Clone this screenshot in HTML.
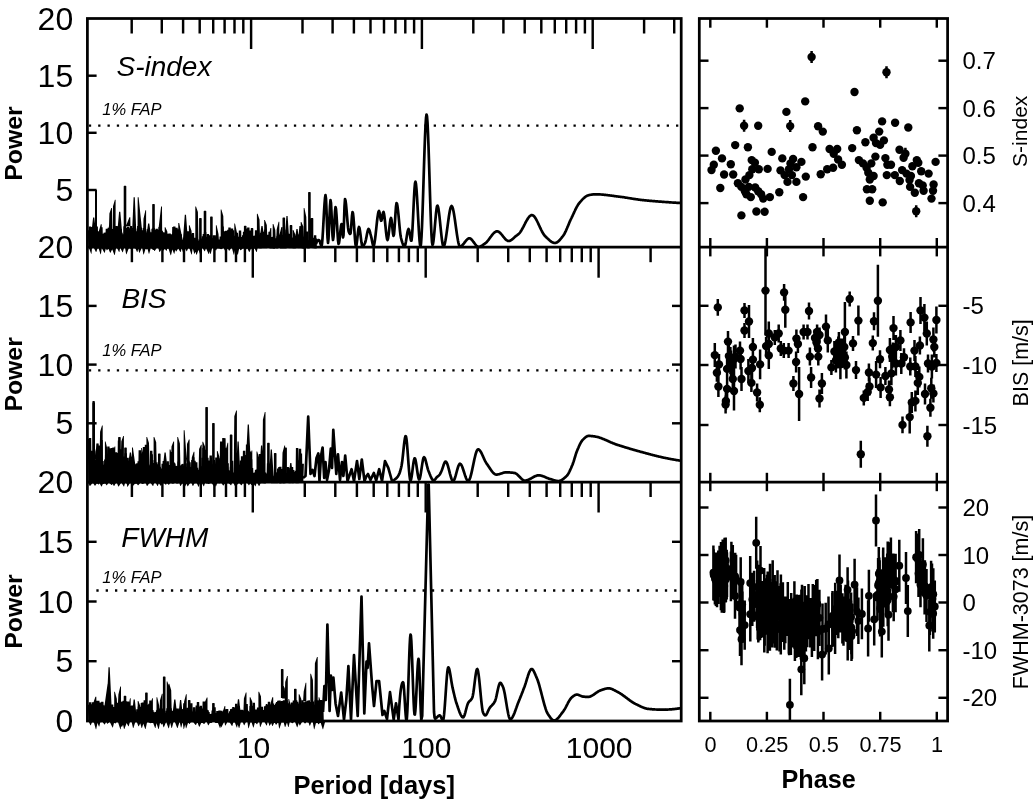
<!DOCTYPE html>
<html lang="en"><head><meta charset="utf-8"><title>Periodograms and phase plots</title>
<style>html,body{margin:0;padding:0;background:#fff}body{width:1036px;height:800px;overflow:hidden}svg{display:block}text{font-family:"Liberation Sans",Arial,Helvetica,sans-serif;fill:#000}</style>
</head><body>
<svg width="1036" height="800" viewBox="0 0 1036 800">
<rect width="1036" height="800" fill="#fff"/>
<g stroke="#000" fill="none" stroke-linecap="butt">
<polyline points="89,230.2 89.5,247.9 90,226.6 90.3,248.4 90.8,227 91.2,248.2 91.8,227 92.2,247.6 92.6,227.2 93.2,247.8 93.7,232 94.3,247.9 94.8,226.2 95.2,248 95.6,229.7 96.1,248.3 96.7,226.5 97,248.2 97.4,231.3 98.1,248.4 98.4,231.6 99.1,247.7 99.5,233.5 100.1,248.2 100.5,232.9 101,247.8 101.4,227.2 101.9,247.9 102.5,233.9 102.9,248 103.5,235 104.1,248.6 104.7,232.8 105.3,248.3 105.7,232.6 106.3,248.3 106.9,228.9 107.4,247.8 107.8,230.4 108.3,248.2 108.8,227.8 109.4,247.9 110,226.5 110.5,248.1 110.9,228.6 111.4,248.1 111.7,231.3 112.3,248.2 113,229.1 113.5,247.9 114.1,232.9 114.7,248.3 115.3,228.2 115.8,247.7 116.3,226.1 116.9,248.1 117.5,230.1 118,247.7 118.5,226.2 119.1,247.7 119.6,226.8 120.1,247.7 120.6,229 121,247.7 121.5,232.7 122.1,248.1 122.5,234.6 123.1,248.1 123.5,234.4 124.1,248 124.6,226.4 124.9,247.8 125.4,234.8 125.8,247.8 126.2,230.5 126.6,247.6 127.1,227.8 127.7,248.5 128.2,226.8 128.7,247.7 129.2,228.2 129.6,248.5 130.2,229.4 130.7,247.8 131.1,226.1 131.7,248.1 132.2,228.1 132.7,247.8 133.3,231.9 133.7,248.2 134.2,234.9 134.6,248.2 135.1,228.6 135.8,248.4 136.3,231.3 136.7,247.6 137.3,232.6 137.8,248.3 138.3,226 138.7,247.6 139.2,227.5 139.7,248.4 140.1,227.1 140.4,247.7 140.9,228.1 141.5,248 141.9,233 142.4,247.9 142.8,230.3 143.4,248.3 144,228 144.5,247.8 145.1,231.4 145.7,248.5 146.1,234.7 146.6,248.3 147.1,232.8 147.4,248.3 147.8,229.3 148.3,248 148.8,232.9 149.1,247.8 149.5,235.1 150.1,247.8 150.6,232.3 151,247.7 151.5,235.3 152.1,247.9 152.6,228.9 153,248 153.6,227.9 154,247.8 154.6,229.9 155,247.7 155.6,230.3 156.2,248 156.7,228.7 157.3,248 157.7,230.1 158.3,247.7 158.8,230.4 159.2,248.2 159.7,227 160.2,248.6 160.6,229 161.2,248.2 161.7,230.9 162.2,248.5 162.6,234.4 163.1,248.6 163.5,232.4 164.2,247.8 164.8,233.1 165.4,248.3 165.8,232.8 166.2,248.3 166.7,235.3 167.3,248.6 167.9,233.9 168.3,247.8 168.8,236.4 169.1,248.5 169.6,233.6 170.1,248.4 170.6,234.4 171,247.8 171.5,234.6 171.9,247.9 172.5,235.3 172.9,248.5 173.4,227 173.9,248.5 174.3,226.5 174.9,247.8 175.4,233.9 176,248.5 176.5,227.7 177.2,248 177.6,235.8 178.1,248.3 178.5,229.4 179.1,248.1 179.7,238.3 180.2,248.5 180.7,234.3 181.2,248.2 181.9,240 182.4,248.6 182.9,240.2 183.4,248.1 183.9,239.7 184.5,247.9 184.9,237.9 185.3,247.9 185.9,236.6 186.3,248.5 186.7,235.7 187.4,248.6 187.9,231.4 188.5,247.7 189.1,234.1 189.6,247.6 189.9,233.8 190.5,248.6 191.1,234.2 191.7,248.2 192,235.8 192.4,248.4 192.9,233 193.4,247.7 193.8,238.4 194.4,247.8 194.9,237.9 195.3,247.7 195.7,239.4 196.1,247.8 196.5,239.2 196.9,247.8 197.3,239.4 197.8,248.5 198.4,241.3 198.7,248 199.2,241 199.6,248.3 200.1,240.1 200.5,247.8 201,238.6 201.6,248.3 202,239.3 202.5,247.8 202.8,236.4 203.4,247.9 203.9,234.1 204.5,248.4 205.1,232.1 205.5,248.1 205.9,237 206.3,247.9 206.9,237.7 207.3,247.9 207.9,234.1 208.5,248.5 208.9,236.6 209.4,248.6 209.8,235.2 210.2,248.5 210.7,239 211.2,248.2 211.6,238.1 212.2,247.6 212.6,238.3 213.1,248 213.7,235.3 214.2,248.4 214.7,235.3 215.2,248 215.6,237.5 216.2,247.8 216.7,239.1 217.3,248.1 217.7,239.9 218.3,248.3 218.6,239.9 219,248.1 219.6,239.7 220.2,248.3 220.8,236.6 221.2,247.7 221.6,238.7 222,248.2 222.6,226.5 223,247.7 223.5,237 223.9,248 224.5,231.3 224.9,247.9 225.4,234.3 225.9,248.4 226.3,230.9 226.8,247.7 227.4,231.7 227.9,248.5 228.4,229.8 229,248.2 229.5,227.6 229.9,248.2 230.3,230.6 230.7,248.2 231.3,234.6 231.7,248.2 232,228.6 232.5,247.6 233.1,230.4 233.6,248.2 234,235.7 234.5,248.2 235.1,237.2 235.5,247.9 236.1,237.4 236.4,248.2 236.8,232.8 237.4,247.8 237.8,236.9 238.4,248 238.9,237.9 239.4,247.6 240,230.6 240.5,248.1 241.2,237.8 241.7,248.4 242.2,237 242.8,248 243.2,235.3 243.6,247.9 244.1,231.7 244.7,248.1 245.2,228.3 245.8,248.3 246.4,232.3 246.9,247.7 247.4,228.8 247.9,248.5 248.3,227.6 249,248.6 249.5,236.3 249.9,248.5 250.5,230.5 251,248.5 251.4,237.3 251.8,248.2 252.1,235.4 252.7,247.7 253.1,236 253.7,248.4 254.3,236.9 254.8,247.8 255.4,235.6 255.7,248 256.1,230.4 256.6,248.3 257,231.3 257.5,247.8 258,233.3 258.4,248.1 258.8,235.5 259.4,248 260,235.8 260.5,248.4 261.1,233.1 261.7,248 262.1,231.9 262.6,248.1 263.2,231.9 263.8,248.3 264.4,231.7 264.9,247.8 265.4,229.6 266,248.1 266.5,235.7 267.1,247.9 267.5,235 268,247.9 268.4,234.8 269,247.8 269.6,231.7 270.1,248.3 270.5,237.7 271.1,248.4 271.5,237.1 272.1,248.5 272.6,239.6 273,248.2 273.5,236.7 274,248.6 274.4,239.1 275,247.8 275.6,238.4 276,248.1 276.5,238.5 277.1,248.5 277.6,236.2 278,247.6 278.6,237.2 279.1,247.9 279.6,235.6 279.9,247.8 280.6,236.6 281.2,248.5 281.7,235 282.1,248.2 282.5,236.9 283,248.4 283.6,234.7 284.1,248.5 284.6,235.1 285.2,248.4 285.7,237.3 286.2,248.2 286.6,229.7 286.9,247.7 287.3,233.9 287.9,247.7 288.3,234.5 288.8,248 289.1,233.7 289.6,248.2 290.2,236.8 290.7,248.2 291.2,237.4 291.8,247.9 292.2,237.9 292.8,248.3 293.2,240.7 293.8,248.5 294.2,241.7 294.6,248.5 295,240.6 295.6,248.1 296.1,239.7 296.5,247.7 297,237.6 297.6,247.7 298,234.5 298.5,248.1 299.1,236.9 299.5,248.3 300,240.3 300.4,248.1 300.9,238.1 301.5,248.3 302,242 302.5,248.4 303,236.9 303.6,248.6 304.2,239.1 304.7,248.4 305.1,238.8 305.5,247.9 305.9,242.3 306.5,247.9 307.1,231.6 307.6,248.2 308.2,242.9 308.5,248.5 309.1,240.4 309.6,247.9 310.2,242.1 310.6,247.9 311.3,240.4 311.7,247.7 312.3,241.1 312.8,247.8 313.2,237.9 313.7,248.1 314.1,240.2 314.5,248.3 315.1,235.3 315.5,248.4 315.9,238.5" fill="none" stroke-width="2.4" stroke-linejoin="miter"/>
<polyline points="316,244 316.5,242.5 317,241.5 317.5,240.7 318,240.3 318.5,240.1 319,240 319.5,240.6 320,242.1 320.5,243.9 321,245.4 321.5,246 322,243.9 322.5,238.4 323,230.5 323.5,221.4 324,212.2 324.5,204 325,198 325.5,195.1 326,198.6 326.5,210.2 327,224.9 327.5,237.6 328,243 328.5,238.8 329,228.8 329.5,216.6 330,205.8 330.5,200.2 331,203 331.5,212.7 332,225 332.5,235.5 333,240 333.5,236.8 334,229.1 334.5,219.7 335,211.5 335.5,207.1 336,208.8 336.5,215 337,223.7 337.5,232.7 338,240.2 338.5,243.9 339,243 339.5,239.7 340,235 340.5,230.1 341,226.1 341.5,224.1 342,226.2 342.5,232.3 343,237.4 343.5,235.1 344,221.7 344.5,206.4 345,199 345.5,200.4 346,204.2 346.5,209.6 347,215.8 347.5,221.9 348,227.2 348.5,230.9 349,232.4 349.5,233.3 350,233.9 350.5,233.5 351,229.1 351.5,222.3 352,215.7 352.5,212.1 353,213.3 353.5,218 354,224.7 354.5,232.3 355,239.3 355.5,244.5 356,246.5 356.5,245.1 357,241.4 357.5,236.8 358,232.1 358.5,228.4 359,227 359.5,228.1 360,230.9 360.5,234.7 361,238.8 361.5,242.6 362,245.4 362.5,246.5 363,246.3 363.5,245.7 364,245 364.5,244 365,243 365.5,241.5 366,239.3 366.5,236.7 367,234 367.5,231.7 368,229.9 368.5,229 369,229.3 369.5,230.5 370,232.2 370.5,234.2 371,236 371.5,238.1 372,240.7 372.5,243.3 373,245.2 373.5,246 374,245.2 374.5,242.9 375,239.6 375.5,235.5 376,230.9 376.5,226.1 377,221.5 377.5,217.4 378,214.1 378.5,211.8 379,211 379.5,212.3 380,215.3 380.5,218.6 381,220.8 381.5,220.5 382,218.3 382.5,215.3 383,212.8 383.5,212 384,213.6 384.5,217 385,221.5 385.5,226.5 386,231.5 386.5,235.8 387,238.9 387.5,240 388,238.8 388.5,235.6 389,231.3 389.5,226.7 390,222.4 390.5,219.2 391,218 391.5,219.7 392,223.9 392.5,229.1 393,233.6 393.5,235.9 394,234.4 394.5,228.9 395,221.1 395.5,213.1 396,206.4 396.5,203.1 397,203.7 397.5,206.3 398,210.3 398.5,215.2 399,220.7 399.5,226.2 400,231.2 400.5,235.3 401,238 401.5,239.8 402,241.5 402.5,243.1 403,244.5 403.5,245.6 404,246.3 404.5,246.5 405,245.8 405.5,243.9 406,241.2 406.5,238.1 407,234.9 407.5,232.1 408,230 408.5,229 409,229.7 409.5,232.1 410,235.3 410.5,238.5 411,240.6 411.5,240.6 412,236.4 412.5,228.7 413,218.8 413.5,208 414,197.6 414.5,188.9 415,183.2 415.5,181.7 416,184.1 416.5,189.4 417,196.8 417.5,205.5 418,215 418.5,224.4 419,233 419.5,240 420,244.8 420.5,246.5 421,244 421.5,237 422,226.5 422.5,213.2 423,198.1 423.5,182.1 424,165.9 424.5,150.6 425,136.9 425.5,125.7 426,118 426.5,114.5 427,116.1 427.5,122.6 428,133 428.5,146.3 429,161.6 429.5,178 430,194.5 430.5,210.2 431,224 431.5,235 432,242.3 432.5,245 433,243.9 433.5,240.7 434,236.2 434.5,230.7 435,224.7 435.5,218.8 436,213.4 436.5,209.1 437,206.3 437.5,205.6 438,206.7 438.5,209.1 439,212.6 439.5,216.8 440,221.6 440.5,226.6 441,231.5 441.5,236.2 442,240.3 442.5,243.6 443,245.7 443.5,246.5 444,246.1 444.5,244.8 445,242.8 445.5,240.3 446,237.3 446.5,233.9 447,230.3 447.5,226.6 448,222.9 448.5,219.3 449,215.8 449.5,212.8 450,210.1 450.5,208 451,206.6 451.5,206 452,206.3 452.5,207.3 453,209 453.5,211.3 454,214 454.5,217.1 455,220.5 455.5,224.1 456,227.7 456.5,231.3 457,234.7 457.5,237.9 458,240.7 458.5,243.1 459,244.9 459.5,246.1 460,246.5 460.5,246.4 461,246.2 461.5,245.9 462,245.5 462.5,245 463,244.5 463.5,243.9 464,243.3 464.5,242.6 465,241.9 465.5,241.3 466,240.7 466.5,240.1 467,239.6 467.5,239.1 468,238.7 468.5,238.5 469,238.3 469.5,238.3 470,238.4 470.5,238.7 471,239 471.5,239.5 472,240 472.5,240.6 473,241.3 473.5,241.9 474,242.6 474.5,243.3 475,244 475.5,244.6 476,245.2 476.5,245.7 477,246.1 477.5,246.5 478,246.7 478.5,246.8 479,246.8 479.5,246.7 480,246.6 480.5,246.4 481,246.1 481.5,245.9 482,245.6 482.5,245.2 483,244.9 483.5,244.5 484,244.2 484.5,243.8 485,243.5 485.5,243.1 486,242.7 486.5,242.2 487,241.7 487.5,241.1 488,240.5 488.5,239.9 489,239.2 489.5,238.5 490,237.8 490.5,237.1 491,236.5 491.5,235.8 492,235.2 492.5,234.5 493,233.9 493.5,233.4 494,232.9 494.5,232.5 495,232.1 495.5,231.8 496,231.5 496.5,231.4 497,231.3 497.5,231.3 498,231.5 498.5,231.7 499,232 499.5,232.4 500,232.8 500.5,233.3 501,233.9 501.5,234.4 502,235 502.5,235.6 503,236.3 503.5,236.9 504,237.5 504.5,238.1 505,238.7 505.5,239.2 506,239.7 506.5,240.1 507,240.4 507.5,240.7 508,240.9 508.5,241 509,241 509.5,240.9 510,240.7 510.5,240.5 511,240.2 511.5,239.9 512,239.5 512.5,239.1 513,238.6 513.5,238.2 514,237.7 514.5,237.3 515,236.8 515.5,236.4 516,236 516.5,235.6 517,235.3 517.5,234.9 518,234.5 518.5,234.1 519,233.6 519.5,233.1 520,232.5 520.5,231.8 521,231 521.5,230.2 522,229.3 522.5,228.5 523,227.5 523.5,226.6 524,225.6 524.5,224.6 525,223.7 525.5,222.7 526,221.7 526.5,220.8 527,220 527.5,219.1 528,218.4 528.5,217.6 529,217 529.5,216.4 530,216 530.5,215.6 531,215.3 531.5,215.1 532,215.1 532.5,215.2 533,215.4 533.5,215.8 534,216.3 534.5,216.8 535,217.5 535.5,218.3 536,219.1 536.5,220 537,221 537.5,222 538,223 538.5,224.1 539,225.2 539.5,226.3 540,227.4 540.5,228.4 541,229.5 541.5,230.5 542,231.5 542.5,232.4 543,233.3 543.5,234.1 544,234.8 544.5,235.5 545,236 545.5,236.5 546,237 546.5,237.5 547,238 547.5,238.4 548,238.9 548.5,239.4 549,239.8 549.5,240.3 550,240.7 550.5,241.1 551,241.5 551.5,241.8 552,242.1 552.5,242.4 553,242.6 553.5,242.8 554,242.9 554.5,243 555,243 555.5,243 556,242.8 556.5,242.6 557,242.4 557.5,242 558,241.7 558.5,241.2 559,240.7 559.5,240.2 560,239.7 560.5,239.1 561,238.5 561.5,237.9 562,237.2 562.5,236.6 563,236 563.5,235.3 564,234.5 564.5,233.7 565,232.7 565.5,231.7 566,230.6 566.5,229.4 567,228.3 567.5,227.1 568,225.9 568.5,224.7 569,223.5 569.5,222.3 570,221.1 570.5,220 571,219 571.5,218 572,216.9 572.5,215.9 573,214.8 573.5,213.7 574,212.6 574.5,211.5 575,210.5 575.5,209.4 576,208.4 576.5,207.5 577,206.5 577.5,205.7 578,204.8 578.5,204.1 579,203.4 579.5,202.8 580,202.2 580.5,201.6 581,201.1 581.5,200.5 582,199.9 582.5,199.4 583,198.9 583.5,198.4 584,198 584.5,197.5 585,197.1 585.5,196.7 586,196.4 586.5,196.1 587,195.8 587.5,195.6 588,195.4 588.5,195.2 589,195.1 589.5,195 590,194.9 590.5,194.8 591,194.7 591.5,194.6 592,194.6 592.5,194.5 593,194.4 593.5,194.4 594,194.4 594.5,194.3 595,194.3 595.5,194.3 596,194.3 596.5,194.3 597,194.3 597.5,194.3 598,194.3 598.5,194.4 599,194.4 599.5,194.4 600,194.4 600.5,194.5 601,194.5 601.5,194.5 602,194.6 602.5,194.6 603,194.7 603.5,194.7 604,194.8 604.5,194.8 605,194.9 605.5,194.9 606,195 606.5,195 607,195.1 607.5,195.1 608,195.2 608.5,195.3 609,195.3 609.5,195.4 610,195.5 610.5,195.5 611,195.6 611.5,195.7 612,195.7 612.5,195.8 613,195.9 613.5,195.9 614,196 614.5,196.1 615,196.1 615.5,196.2 616,196.3 616.5,196.3 617,196.4 617.5,196.5 618,196.5 618.5,196.6 619,196.6 619.5,196.7 620,196.8 620.5,196.8 621,196.9 621.5,197 622,197 622.5,197.1 623,197.2 623.5,197.2 624,197.3 624.5,197.4 625,197.5 625.5,197.6 626,197.6 626.5,197.7 627,197.8 627.5,197.9 628,198 628.5,198 629,198.1 629.5,198.2 630,198.3 630.5,198.4 631,198.4 631.5,198.5 632,198.6 632.5,198.7 633,198.8 633.5,198.8 634,198.9 634.5,199 635,199.1 635.5,199.2 636,199.2 636.5,199.3 637,199.4 637.5,199.4 638,199.5 638.5,199.6 639,199.6 639.5,199.7 640,199.8 640.5,199.8 641,199.9 641.5,200 642,200 642.5,200.1 643,200.1 643.5,200.2 644,200.2 644.5,200.3 645,200.3 645.5,200.4 646,200.4 646.5,200.5 647,200.5 647.5,200.6 648,200.6 648.5,200.7 649,200.7 649.5,200.8 650,200.8 650.5,200.8 651,200.9 651.5,200.9 652,201 652.5,201 653,201.1 653.5,201.1 654,201.1 654.5,201.2 655,201.2 655.5,201.3 656,201.3 656.5,201.4 657,201.4 657.5,201.4 658,201.5 658.5,201.5 659,201.6 659.5,201.6 660,201.6 660.5,201.7 661,201.7 661.5,201.7 662,201.8 662.5,201.8 663,201.9 663.5,201.9 664,201.9 664.5,202 665,202 665.5,202 666,202.1 666.5,202.1 667,202.1 667.5,202.2 668,202.2 668.5,202.2 669,202.3 669.5,202.3 670,202.4 670.5,202.4 671,202.4 671.5,202.5 672,202.5 672.5,202.5 673,202.6 673.5,202.6 674,202.6 674.5,202.6 675,202.7 675.5,202.7 676,202.7 676.5,202.8 677,202.8 677.5,202.8 678,202.9 678.5,202.9 679,202.9 679.5,202.9 680,203 680.5,203" fill="none" stroke-width="2.7" stroke-linejoin="round"/>
<polyline points="89,438.8 89.5,482.7 90,438.1 90.5,482.9 91.1,456.5 91.5,483.1 91.9,450.7 92.4,483.2 92.8,461.8 93.2,483.1 93.6,453.6 94.3,482.8 94.8,460.2 95.2,483.4 95.6,459.2 96,483.3 96.6,455.3 96.9,483.3 97.5,443.6 98.1,482.4 98.5,446.4 99.1,482.8 99.5,445.5 100,483 100.4,451.9 101,482.6 101.5,439.9 102,483.3 102.5,461 103.1,483.2 103.7,464.7 104.1,482.7 104.5,466.3 104.9,483 105.3,459.6 105.6,483.3 106.2,453.8 106.9,482.5 107.2,455.1 107.8,483 108.4,446.6 109,482.7 109.4,453.6 109.9,482.5 110.4,448.3 110.9,483.4 111.3,452.9 111.8,482.7 112.2,448.1 112.9,482.7 113.5,447.6 114,482.4 114.7,456.9 115.3,483.3 115.8,452.3 116.3,482.8 116.9,452.8 117.4,482.8 117.9,458.3 118.6,482.8 119,440.5 119.7,482.5 120.2,449.2 120.9,483.1 121.2,456.7 121.8,482.6 122.2,457.4 122.9,482.6 123.5,456.6 124,483.1 124.6,456.7 125.1,482.5 125.7,453.3 126.1,482.7 126.5,460.5 127,483.4 127.6,457.9 128.2,483.3 128.7,460.9 129.3,482.7 129.7,462.3 130.2,482.7 130.7,460.7 131.3,483.1 131.9,456.8 132.5,482.5 133,462.1 133.6,482.7 134,468.1 134.6,483.1 135,464.4 135.4,483.1 135.7,465.5 136.3,482.6 136.9,463.6 137.3,483.4 137.7,463.3 138.1,483.2 138.7,461.3 139.3,483.1 139.8,450.2 140.4,482.6 141,459.1 141.5,482.9 142,453.5 142.4,482.7 142.8,452.6 143.4,483.4 144,447 144.5,482.9 144.9,447.2 145.4,482.5 146,444.8 146.5,483.3 147.1,453.2 147.6,482.5 148.1,465.6 148.6,483.1 149,467.7 149.4,483 150,466.4 150.6,482.9 151.2,450.7 151.7,483 152.2,460.1 152.8,483.2 153.4,463.1 153.9,482.7 154.5,467.5 155.1,482.6 155.6,466.7 156.1,482.8 156.4,462.4 157.1,483 157.7,465.6 158.2,483 158.8,464.3 159.3,482.7 159.7,466.8 160.2,483.2 160.7,468.5 161.3,483.1 161.8,469.5 162.3,482.4 162.7,463.9 163.3,483.3 163.8,461 164.3,483.2 164.7,462 165.1,482.5 165.6,465.6 166.1,483 166.5,467.7 167.1,482.9 167.7,461.4 168.2,482.9 168.7,466.3 169.2,482.6 169.8,465.1 170.3,483.3 170.6,465.5 171.1,482.9 171.5,452.1 172.1,483.2 172.5,454.1 173.1,483.4 173.7,462.4 174.1,482.9 174.4,463.4 174.8,482.6 175.3,465.8 176,482.8 176.6,466.1 177,483.3 177.6,466.1 178.1,482.8 178.7,461.5 179.3,483.2 179.8,465.9 180.3,483 180.8,466.9 181.2,482.7 181.7,465.1 182.2,483.1 182.6,463.9 183.1,482.8 183.4,467.4 183.8,483 184.3,465.6 184.7,483.3 185.3,467.3 185.8,482.9 186.4,468 186.8,482.7 187.4,463.2 187.8,483 188.4,460.9 189,483.1 189.5,462.4 190.1,482.5 190.6,467.1 191,482.8 191.6,468 192,482.7 192.4,460 192.9,483.1 193.3,457.2 193.8,482.5 194.5,460.7 195,483.1 195.4,466.5 195.8,483.3 196.2,462.2 196.8,483.3 197.1,467.8 197.6,482.7 198.1,469.9 198.7,483 199.4,471.3 199.9,483.1 200.6,470.2 201.2,482.6 201.6,466.3 202.1,482.8 202.6,457.8 203.1,482.8 203.5,447.7 204,483.2 204.5,465.4 204.9,482.8 205.4,449.7 205.9,482.6 206.3,463.2 206.8,482.6 207.4,457.9 208,483 208.5,460.5 209,483.2 209.6,461.3 210.1,483.1 210.7,455.5 211.4,483.3 211.8,464.3 212.4,482.5 212.9,467.5 213.3,482.5 213.8,460 214.2,483.1 214.6,468.3 215.1,483.4 215.5,464.2 215.9,482.7 216.4,457.4 216.8,483.2 217.5,466.6 217.9,483.3 218.3,459.8 218.8,483 219.5,465.9 219.9,482.5 220.3,458.2 220.7,483 221.2,441.6 221.7,482.4 222.3,449.8 222.8,482.8 223.4,438.1 223.8,483.4 224.4,438.2 225,483.3 225.6,447.7 226.1,482.9 226.6,454.2 227,483.1 227.6,463.2 228,482.5 228.4,470.2 228.8,483.2 229.2,471.1 229.6,483 230.2,472.7 230.6,482.5 231,466.8 231.4,482.5 232.1,460.9 232.6,482.8 233.1,472.9 233.5,482.7 233.9,472.6 234.4,482.4 235,473.5 235.4,482.4 235.9,470.1 236.5,483.1 237,470.6 237.4,482.6 238,467.5 238.4,482.8 239,470.7 239.4,482.6 239.9,464.8 240.4,483.1 240.9,460.5 241.5,482.8 242.1,456.3 242.5,483 242.9,457.6 243.5,482.6 244.1,450.7 244.7,483.4 245.3,456.9 245.8,482.5 246.2,455.1 246.6,482.5 247.1,444.6 247.5,482.5 248,455.3 248.6,483.3 249.1,456.2 249.5,483.1 250.1,451.4 250.6,482.9 251.1,459.2 251.5,483.3 252,468.1 252.5,482.8 253.1,473.1 253.5,482.9 253.9,473.4 254.5,483 254.9,472.6 255.4,482.5 256.1,469.7 256.4,483 256.8,470 257.3,482.5 257.8,469.1 258.3,482.9 258.8,466.9 259.3,483.1 259.9,454 260.3,483.3 260.9,470 261.5,483.3 262.2,470 262.5,483 263,468.5 263.6,483.1 264.2,472 264.7,483.4 265.2,472.7 265.6,482.6 266.2,474 266.8,482.4 267.2,474.9 267.6,482.8 268.1,463.2 268.7,482.8 269.1,468 269.7,483 270.3,473.6 270.8,482.7 271.5,472.5 272.1,483.2 272.6,475.7 273,482.7 273.4,477.2 273.9,483.2 274.3,476.7 274.8,483.1 275.4,475.3 275.9,483 276.3,473.6 276.7,483.2 277.3,472.2 277.7,482.6 278.2,468.5 278.8,482.9 279.4,467 279.9,483.2 280.3,466.7 280.7,483.4 281.1,470.2 281.8,483.2 282.1,469 282.5,483.3 283,472.1 283.4,482.7 283.9,475.6 284.4,483.3 284.8,474.8 285.3,482.8 285.8,473 286.3,482.9 286.6,474.4 287.1,482.8 287.7,467 288.1,482.7 288.6,467.7 289,482.5 289.3,469.8 289.7,483.1 290.2,475 290.6,483 291.1,473.6 291.4,482.4 292,467.1 292.6,483.3 293.2,470 293.7,482.7 294.2,475.2 294.8,483 295.2,471.9 295.6,482.8 296.1,470.8 296.7,483.2 297.1,448.1 297.6,483.2 298,466.9 298.5,482.9 299,460.3 299.4,482.9 300,448.8 300.4,482.5 300.9,453.5 301.3,482.7 301.6,465.1 302.1,482.5 302.7,463.8" fill="none" stroke-width="2.4" stroke-linejoin="miter"/>
<polyline points="303,478 305.5,476 308.2,416.7 310.5,474 312.5,470 314.5,476 316.5,458 318.3,453.4 319.5,481 321,456 322.6,447.6 324.2,478 325.5,462 327,480 329,470 330.8,448.5 332,468 333.3,429.8 335,455 336.3,474 338,454.3 340,480 342,462 343.4,476 345.2,455.7 347.5,481 351.6,469.2 354,481 357,461 359.3,479 361.8,459.5 364.5,481 366.5,476 368,474 370.5,480 373.8,473 376.2,480.5 379.2,469.2 382,481 385,461 388.3,467.8 392,481 392.5,480.9 393,480.7 393.5,480.4 394,480.1 394.5,479.7 395,479.3 395.5,478.9 396,478.5 396.5,478 397,477.5 397.5,476.9 398,476.2 398.5,475.3 399,474.4 399.5,473.2 400,471.8 400.5,470 401,468.1 401.5,466 402,463.1 402.5,459.2 403,454.5 403.5,449.7 404,445 404.5,440.9 405,437.8 405.5,436.2 406,436.5 406.5,439.3 407,444 407.5,450.1 408,456.9 408.5,463.8 409,470.2 409.5,475.5 410,479.2 410.5,480.5 411,479.6 411.5,477.3 412,474 412.5,470.1 413,466.2 413.5,462.6 414,459.9 414.5,458.3 415,458.5 415.5,460 416,462.5 416.5,465.7 417,469.2 417.5,472.7 418,475.8 418.5,478.1 419,479.4 419.5,479.2 420,477.8 420.5,475.5 421,472.4 421.5,469 422,465.6 422.5,462.4 423,459.7 423.5,457.9 424,457.2 424.5,457.6 425,458.5 425.5,460 426,461.8 426.5,463.8 427,465.9 427.5,467.8 428,469.6 428.5,471 429,472.2 429.5,473.5 430,474.7 430.5,476 431,477.1 431.5,478.2 432,479.1 432.5,479.8 433,480.3 433.5,480.5 434,480.4 434.5,480.1 435,479.5 435.5,478.9 436,478.2 436.5,477.5 437,477 437.5,476.6 438,476.2 438.5,475.9 439,475.4 439.5,474.9 440,474.1 440.5,473.1 441,472.1 441.5,471 442,469.8 442.5,468.4 443,466.9 443.5,465.3 444,463.9 444.5,462.7 445,461.9 445.5,461.5 446,461.7 446.5,462.3 447,463.3 447.5,464.6 448,466.2 448.5,468 449,469.9 449.5,471.8 450,473.8 450.5,475.6 451,477.3 451.5,478.7 452,479.9 452.5,480.6 453,481 453.5,480.8 454,480.2 454.5,479.2 455,477.8 455.5,476.2 456,474.4 456.5,472.5 457,470.7 457.5,468.9 458,467.2 458.5,465.8 459,464.7 459.5,464 460,463.7 460.5,463.9 461,464.4 461.5,465.2 462,466.3 462.5,467.5 463,469 463.5,470.5 464,472 464.5,473.6 465,475.2 465.5,476.6 466,477.9 466.5,479.1 467,480 467.5,480.6 468,481 468.5,480.9 469,480.4 469.5,479.5 470,478.2 470.5,476.7 471,474.8 471.5,472.8 472,470.6 472.5,468.3 473,465.9 473.5,463.5 474,461.1 474.5,458.8 475,456.7 475.5,454.7 476,453 476.5,451.5 477,450.4 477.5,449.6 478,449.3 478.5,449.4 479,449.6 479.5,450.1 480,450.7 480.5,451.4 481,452.2 481.5,453.2 482,454.2 482.5,455.3 483,456.4 483.5,457.5 484,458.6 484.5,459.7 485,460.8 485.5,461.7 486,462.6 486.5,463.4 487,464.1 487.5,464.8 488,465.6 488.5,466.3 489,467.1 489.5,467.8 490,468.6 490.5,469.3 491,470 491.5,470.7 492,471.4 492.5,472 493,472.6 493.5,473.1 494,473.5 494.5,473.9 495,474.2 495.5,474.4 496,474.6 496.5,474.6 497,474.6 497.5,474.5 498,474.4 498.5,474.3 499,474.2 499.5,474.1 500,473.9 500.5,473.8 501,473.6 501.5,473.4 502,473.2 502.5,473.1 503,472.9 503.5,472.8 504,472.6 504.5,472.5 505,472.4 505.5,472.4 506,472.3 506.5,472.3 507,472.3 507.5,472.3 508,472.3 508.5,472.4 509,472.4 509.5,472.4 510,472.5 510.5,472.5 511,472.6 511.5,472.6 512,472.7 512.5,472.7 513,472.8 513.5,472.9 514,472.9 514.5,473 515,473.1 515.5,473.3 516,473.6 516.5,473.9 517,474.3 517.5,474.7 518,475.2 518.5,475.7 519,476.2 519.5,476.7 520,477.3 520.5,477.8 521,478.3 521.5,478.7 522,479.2 522.5,479.6 523,479.9 523.5,480.2 524,480.4 524.5,480.6 525,480.6 525.5,480.6 526,480.5 526.5,480.4 527,480.3 527.5,480.1 528,480 528.5,479.8 529,479.5 529.5,479.3 530,479 530.5,478.7 531,478.5 531.5,478.2 532,477.9 532.5,477.6 533,477.3 533.5,477 534,476.8 534.5,476.5 535,476.3 535.5,476.1 536,475.9 536.5,475.7 537,475.5 537.5,475.4 538,475.4 538.5,475.3 539,475.3 539.5,475.3 540,475.4 540.5,475.5 541,475.6 541.5,475.7 542,475.9 542.5,476 543,476.2 543.5,476.4 544,476.6 544.5,476.8 545,477 545.5,477.2 546,477.5 546.5,477.7 547,477.9 547.5,478.1 548,478.3 548.5,478.5 549,478.7 549.5,478.9 550,479 550.5,479.1 551,479.3 551.5,479.4 552,479.6 552.5,479.8 553,479.9 553.5,480.1 554,480.2 554.5,480.4 555,480.5 555.5,480.6 556,480.7 556.5,480.8 557,480.9 557.5,481 558,481 558.5,481 559,481 559.5,480.9 560,480.8 560.5,480.6 561,480.4 561.5,480.1 562,479.8 562.5,479.5 563,479.2 563.5,478.8 564,478.4 564.5,477.9 565,477.5 565.5,477 566,476.6 566.5,476.1 567,475.6 567.5,474.9 568,474.2 568.5,473.4 569,472.5 569.5,471.5 570,470.4 570.5,469.3 571,468.2 571.5,467 572,465.8 572.5,464.7 573,463.3 573.5,461.9 574,460.3 574.5,458.6 575,457 575.5,455.3 576,453.7 576.5,452.3 577,451 577.5,449.8 578,448.6 578.5,447.5 579,446.3 579.5,445.2 580,444.2 580.5,443.2 581,442.3 581.5,441.5 582,440.7 582.5,440.1 583,439.6 583.5,439.1 584,438.6 584.5,438.1 585,437.7 585.5,437.3 586,436.9 586.5,436.6 587,436.3 587.5,436.1 588,436 588.5,435.9 589,435.9 589.5,435.9 590,435.9 590.5,436 591,436 591.5,436.1 592,436.1 592.5,436.2 593,436.2 593.5,436.3 594,436.3 594.5,436.4 595,436.5 595.5,436.6 596,436.7 596.5,436.8 597,436.9 597.5,437 598,437.1 598.5,437.3 599,437.4 599.5,437.6 600,437.7 600.5,437.9 601,438.1 601.5,438.3 602,438.5 602.5,438.7 603,438.9 603.5,439.1 604,439.3 604.5,439.5 605,439.7 605.5,439.9 606,440.1 606.5,440.4 607,440.6 607.5,440.8 608,441 608.5,441.3 609,441.5 609.5,441.7 610,441.9 610.5,442.2 611,442.4 611.5,442.6 612,442.8 612.5,443 613,443.2 613.5,443.4 614,443.6 614.5,443.8 615,444 615.5,444.2 616,444.4 616.5,444.5 617,444.7 617.5,444.9 618,445 618.5,445.2 619,445.3 619.5,445.5 620,445.7 620.5,445.8 621,446 621.5,446.1 622,446.3 622.5,446.5 623,446.6 623.5,446.8 624,446.9 624.5,447.1 625,447.2 625.5,447.4 626,447.5 626.5,447.7 627,447.8 627.5,448 628,448.1 628.5,448.3 629,448.4 629.5,448.6 630,448.7 630.5,448.9 631,449 631.5,449.2 632,449.3 632.5,449.5 633,449.6 633.5,449.7 634,449.9 634.5,450 635,450.2 635.5,450.3 636,450.5 636.5,450.6 637,450.7 637.5,450.9 638,451 638.5,451.2 639,451.3 639.5,451.4 640,451.6 640.5,451.7 641,451.9 641.5,452 642,452.1 642.5,452.3 643,452.4 643.5,452.5 644,452.7 644.5,452.8 645,452.9 645.5,453.1 646,453.2 646.5,453.4 647,453.5 647.5,453.6 648,453.8 648.5,453.9 649,454 649.5,454.2 650,454.3 650.5,454.4 651,454.6 651.5,454.7 652,454.8 652.5,455 653,455.1 653.5,455.2 654,455.3 654.5,455.5 655,455.6 655.5,455.7 656,455.8 656.5,456 657,456.1 657.5,456.2 658,456.3 658.5,456.5 659,456.6 659.5,456.7 660,456.8 660.5,456.9 661,457 661.5,457.1 662,457.2 662.5,457.4 663,457.5 663.5,457.6 664,457.7 664.5,457.8 665,457.9 665.5,458 666,458.1 666.5,458.2 667,458.3 667.5,458.4 668,458.5 668.5,458.6 669,458.7 669.5,458.8 670,458.9 670.5,459 671,459.1 671.5,459.2 672,459.3 672.5,459.4 673,459.4 673.5,459.5 674,459.6 674.5,459.7 675,459.8 675.5,459.9 676,460 676.5,460.1 677,460.1 677.5,460.2 678,460.3 678.5,460.4 679,460.5 679.5,460.5 680,460.6 680.5,460.7" fill="none" stroke-width="2.7" stroke-linejoin="round"/>
<polyline points="89,704.6 89.6,722 90.1,702.4 90.6,721.9 91,705.5 91.6,722 92,704.3 92.5,722.2 93,702.3 93.6,722.4 94.2,702.8 94.7,722.2 95.2,700.7 95.8,721.7 96.3,700.7 96.9,722.3 97.5,704.1 97.9,721.8 98.3,700.7 98.8,721.7 99.3,704.3 99.7,721.8 100.1,702.5 100.5,722.3 101.1,703.3 101.7,721.7 102.3,701.8 102.9,721.9 103.5,705.2 103.8,721.5 104.2,707.4 104.6,722 105.3,706.3 105.7,722.1 106.3,705.5 106.9,721.7 107.5,706.8 108,722.1 108.5,707.3 108.9,721.4 109.4,704.9 109.7,722 110.2,707 110.7,722 111.2,707.8 111.7,722.1 112.1,704.5 112.8,721.7 113.3,710.8 113.6,721.6 114.2,707 114.7,721.5 115.1,707.1 115.6,721.9 116,703 116.4,722.1 116.8,702.7 117.2,722.3 117.7,706.7 118.1,721.6 118.5,704.5 119,722 119.6,702 120.2,721.7 120.7,701.9 121.3,722.2 121.8,701.9 122.4,721.8 122.8,701.4 123.3,721.5 123.8,700.8 124.4,721.5 124.9,702 125.5,721.4 125.8,701.3 126.3,721.6 126.9,701.6 127.4,721.6 127.9,701.6 128.3,721.7 128.8,704.7 129.4,721.7 129.9,707.4 130.5,721.9 131,705.8 131.6,721.7 132.1,705.6 132.7,721.5 133.3,711.5 133.9,721.5 134.4,711.3 135,721.8 135.6,712.1 136,722.1 136.4,712.6 136.8,721.6 137.4,709.2 137.7,721.5 138.1,710.7 138.5,722.3 138.9,706.5 139.3,722.4 139.8,707.7 140.2,722.1 140.8,707 141.4,722.1 141.9,703.1 142.4,721.9 142.7,702.6 143.2,722.3 143.7,705 144.3,722.2 144.8,700.4 145.3,721.9 145.8,702.3 146.2,722.4 146.7,705.1 147.1,722 147.5,704.7 147.9,722.2 148.5,705.6 148.9,721.7 149.4,703.7 150,721.9 150.4,700.6 150.8,721.6 151.4,710.4 151.8,721.8 152.3,710.1 152.8,721.6 153.3,711.7 153.8,721.5 154.2,714 154.6,722.1 155.2,712.6 155.6,721.7 156.1,712.1 156.7,722.2 157.1,710.4 157.5,722.3 158.1,709.2 158.7,721.8 159.1,711 159.7,721.6 160.3,708.5 161,721.7 161.3,710.9 161.7,721.7 162.3,712.3 162.7,721.9 163.3,708.5 163.9,722 164.4,713.3 165,722.4 165.5,712.9 166.1,721.4 166.5,710.7 167.1,721.9 167.5,708.2 167.9,721.9 168.5,713.2 168.9,722.1 169.5,705.9 169.9,721.9 170.5,708.4 171.1,721.8 171.7,710.8 172.2,722.2 172.6,711.7 173,721.8 173.4,710.7 174,721.6 174.5,709.7 175,721.6 175.6,712.3 176.2,721.7 176.7,708.5 177.2,721.8 177.7,708.5 178.2,721.7 178.8,712.3 179.3,721.9 179.7,711.1 180.1,722.1 180.6,708.7 181,721.9 181.5,711.3 181.8,721.9 182.3,710.2 182.8,722.1 183.3,709.1 183.8,721.9 184.4,703.4 184.8,722.4 185.3,709.5 185.9,722.4 186.4,710.3 186.9,722 187.4,707.8 188,722.2 188.4,709 188.7,721.5 189.4,710.1 189.8,721.4 190.2,710.9 190.7,721.5 191.3,703.3 191.7,722.2 192.2,711.7 192.6,721.9 193.2,711.5 193.8,721.8 194.1,707.2 194.5,721.9 195,712.2 195.5,721.5 195.9,711.9 196.4,722.3 196.8,705.6 197.4,721.9 198,702 198.4,722.3 198.8,709.5 199.2,721.5 199.8,707 200.2,721.8 200.8,705.9 201.4,722.4 201.8,709.8 202.2,721.8 202.8,708.5 203.2,721.8 203.8,701.5 204.3,722 204.8,706.3 205.2,721.9 205.6,712.1 206,721.5 206.6,709.7 207.2,721.6 207.6,710.3 208.2,721.5 208.5,712.2 209.1,721.5 209.7,715.4 210.3,721.9 210.8,714 211.2,721.7 211.8,713.9 212.3,721.5 212.7,710.6 213.2,722 213.7,708.3 214,721.4 214.5,707.2 214.9,721.7 215.6,713 216.1,721.4 216.5,713 216.9,722.1 217.4,711.1 217.9,721.5 218.4,711.8 218.9,721.8 219.5,710.5 220,722.2 220.7,714.3 221,721.9 221.4,710.9 221.9,722.2 222.4,713.6 222.9,722.2 223.3,711.9 223.7,722.2 224.3,710.6 224.9,722.3 225.5,709.4 225.9,722.3 226.3,711.8 226.7,721.8 227.1,709 227.7,721.4 228.3,713.3 228.9,722.2 229.2,713.5 229.7,722.4 230.2,711.3 230.7,721.5 231.3,709.1 232,721.9 232.4,708.8 232.9,722.4 233.4,707.1 233.7,722.4 234.3,708.1 234.7,722 235.2,709.4 235.7,722.3 236.2,703.8 236.6,722 237,708.6 237.4,721.5 237.9,711.7 238.3,721.6 238.8,706.3 239.4,722.3 239.8,710.1 240.3,721.5 240.8,710.9 241.3,722.1 241.7,709.8 242.4,721.8 242.8,710.2 243.3,722.2 243.7,710.3 244.3,722.1 244.8,712.3 245.3,722.3 245.7,710.6 246.1,722 246.6,704 247.1,721.6 247.7,710.8 248.1,722 248.5,713 249,722.2 249.5,712.1 250.1,721.6 250.7,706 251.3,722.2 251.7,705.7 252.2,721.5 252.9,711.4 253.4,722.3 253.8,702.8 254.3,722 254.9,709.8 255.4,722.4 256,709.5 256.6,721.7 257.1,710.9 257.7,722.1 258.1,707.6 258.6,722.3 259,710.1 259.4,721.5 259.8,710 260.4,722.2 260.9,712.7 261.3,721.6 261.8,706.8 262.4,721.4 262.8,710 263.5,721.9 264,712.9 264.6,721.5 265.1,706.3 265.4,721.7 265.9,707 266.3,721.8 266.8,708.5 267.4,721.7 267.8,704.5 268.5,722.2 269,701.9 269.5,722.1 270,704.9 270.4,722.3 271,705.2 271.5,721.4 271.9,708.4 272.3,721.5 272.9,703.5 273.5,721.7 273.9,705.1 274.5,722.2 274.9,706.7 275.5,721.7 276.1,703.5 276.7,721.6 277.1,702 277.7,722.3 278.3,700.9 278.8,721.8 279.5,700.6 279.9,722.1 280.4,701.4 280.9,722.1 281.3,704.4 281.7,721.5 282.2,701 282.6,722.4 283.2,702.2 283.6,721.5 284,700.3 284.4,721.5 284.9,702.6 285.2,722.3 285.6,701.1 286.1,722.2 286.6,700.2 287.2,722.2 287.8,703.2 288.4,722.3 288.9,708.9 289.4,722.3 289.8,706.6 290.5,722.1 290.9,704.5 291.5,721.9 291.9,702.5 292.5,721.6 292.8,703 293.3,721.8 293.9,700.5 294.3,721.5 294.9,701.8 295.6,721.5 296.1,700.2 296.7,722.2 297.3,701.7 297.7,722.4 298.3,703.5 298.8,721.8 299.3,703.6 299.9,721.9 300.4,703.7 300.8,721.9 301.2,704.2 301.7,721.4 302.4,700.2 302.9,721.6 303.5,702.2 303.9,721.5 304.5,703.7 305.1,722.1 305.7,701.3 306.4,721.9 307,704.2 307.4,721.8 308,700.8 308.4,722.4 308.8,700.4 309.3,722 309.9,702.5 310.4,721.9 311,702 311.5,721.5 312,703.5 312.4,722.1 312.9,701.6 313.4,721.9 313.8,707.5 314.4,722.2 314.8,704.7 315.3,721.8 315.7,700.3 316.2,721.6 316.8,702.1 317.2,722.1 317.7,700.4 318.2,721.4 318.7,701.4 319.3,722.3 319.9,702.4 320.3,721.7 320.9,700 321.5,721.8 322.1,700.2 322.6,722" fill="none" stroke-width="2.4" stroke-linejoin="miter"/>
<polyline points="323,712 324.4,686 325.8,700 327.4,624.6 329.6,711 330.9,675.6 332.2,690 333.4,677.5 335.6,703.7 338,716 341.2,692.5 344,719.5 346.3,700 348.4,666.2 351,719.5 354,655 357.7,716 361.5,596.5 364.3,713.5 366.5,661.5 367.6,668 369,643.4 372.2,686.8 374,706 376.5,681.2 379.1,681.2 382.5,715 384.3,711 387,719 390,692.1 393.7,719.5 396,703.3 398.5,719.5 398.5,719.5 398.9,712.3 399.3,706 399.7,700.6 400.1,696 400.5,692.2 400.9,689.1 401.3,686.6 401.7,684.8 402.1,683.4 402.5,682.6 402.9,682.2 403.3,682.6 403.7,685.4 404.1,690.2 404.5,696.3 404.9,703 405.3,709.6 405.7,715.1 406.1,719 406.5,720.5 406.9,718.2 407.3,711.9 407.7,702.7 408.1,691.4 408.5,679 408.9,666.5 409.3,654.9 409.7,645 410.1,637.9 410.5,634.6 410.9,635.6 411.3,640.6 411.7,648.7 412.1,658.9 412.5,670.3 412.9,682 413.3,693.2 413.7,703 414.1,710.3 414.5,714.4 414.9,714.6 415.3,711.4 415.7,705.8 416.1,698.4 416.5,690.1 416.9,681.5 417.3,673.3 417.7,666.3 418.1,661.2 418.5,658.8 418.9,660.6 419.3,667.8 419.7,678.7 420.1,691.3 420.5,703.6 420.9,713.7 421.3,719.8 422.2,716 428.2,484.5 428.7,484.5 434,712 434.6,717.5 435.3,718.7 435.7,718.5 436.1,718.2 436.5,717.8 436.9,717.4 437.3,717 437.7,716.6 438.1,716.2 438.5,715.9 438.9,715.6 439.3,715.4 439.7,715.4 440.1,715.7 440.5,716.2 440.9,717 441.3,717.8 441.7,718.7 442.1,719.5 442.5,720 442.9,720.3 443.3,719.8 443.7,717.8 444.1,714.4 444.5,710 444.9,704.7 445.3,699 445.7,693.1 446.1,687.1 446.5,681.5 446.9,676.4 447.3,672.2 447.7,669.2 448.1,667.5 448.5,667.4 448.9,668.1 449.3,669.3 449.7,671.1 450.1,673.2 450.5,675.5 450.9,678 451.3,680.6 451.7,683 452.1,685.3 452.5,687.4 452.9,689.1 453.3,690.9 453.7,692.6 454.1,694.3 454.5,696 454.9,697.7 455.3,699.2 455.7,700.7 456.1,702 456.5,703.2 456.9,704.4 457.3,705.6 457.7,706.8 458.1,708 458.5,709.1 458.9,710.3 459.3,711.4 459.7,712.4 460.1,713.4 460.5,714.3 460.9,715.1 461.3,715.8 461.7,716.4 462.1,716.9 462.5,717.2 462.9,717.4 463.3,717.3 463.7,717 464.1,716.2 464.5,715.2 464.9,714 465.3,712.6 465.7,711 466.1,709.5 466.5,708 466.9,706.5 467.3,705.1 467.7,704 468.1,703.1 468.5,702.4 468.9,701.9 469.3,701.4 469.7,701 470.1,700.6 470.5,700.3 470.9,699.8 471.3,699.4 471.7,698.8 472.1,698.1 472.5,697.1 472.9,695.3 473.3,693 473.7,690.2 474.1,687.1 474.5,683.8 474.9,680.6 475.3,677.4 475.7,674.6 476.1,672.2 476.5,670.4 476.9,669.3 477.3,669 477.7,669.8 478.1,671.4 478.5,673.9 478.9,676.9 479.3,680.5 479.7,684.4 480.1,688.5 480.5,692.7 480.9,696.8 481.3,700.8 481.7,704.4 482.1,707.6 482.5,710.2 482.9,712.1 483.3,713.1 483.7,713.8 484.1,714.5 484.5,715 484.9,715.3 485.3,715.4 485.7,715.2 486.1,714.8 486.5,714.3 486.9,713.6 487.3,712.8 487.7,711.9 488.1,711 488.5,710.1 488.9,709.3 489.3,708.5 489.7,707.9 490.1,707.4 490.5,706.9 490.9,706.4 491.3,706 491.7,705.6 492.1,705.1 492.5,704.7 492.9,704.3 493.3,703.8 493.7,703.3 494.1,702.7 494.5,702.1 494.9,701.4 495.3,700.4 495.7,699.1 496.1,697.6 496.5,695.9 496.9,694 497.3,692.1 497.7,690.3 498.1,688.5 498.5,686.8 498.9,685.4 499.3,684.2 499.7,683.3 500.1,682.9 500.5,682.8 500.9,683.1 501.3,683.6 501.7,684.3 502.1,685.1 502.5,685.9 502.9,686.8 503.3,687.7 503.7,689.1 504.1,690.7 504.5,692.5 504.9,694.6 505.3,696.9 505.7,699.3 506.1,701.7 506.5,704.1 506.9,706.6 507.3,708.9 507.7,711.1 508.1,713.2 508.5,715 508.9,716.6 509.3,717.8 509.7,718.7 510.1,719.1 510.5,719.2 510.9,719 511.3,718.8 511.7,718.4 512.1,717.8 512.5,717.2 512.9,716.5 513.3,715.7 513.7,714.8 514.1,713.9 514.5,712.9 514.9,711.8 515.3,710.7 515.7,709.6 516.1,708.5 516.5,707.4 516.9,706.2 517.3,705.1 517.7,704 518.1,702.9 518.5,701.9 518.9,700.9 519.3,699.9 519.7,699 520.1,698 520.5,697 520.9,696 521.3,695 521.7,693.9 522.1,692.9 522.5,691.9 522.9,690.9 523.3,689.8 523.7,688.8 524.1,687.8 524.5,686.8 524.9,685.6 525.3,684.4 525.7,683.2 526.1,681.9 526.5,680.6 526.9,679.2 527.3,677.9 527.7,676.7 528.1,675.4 528.5,674.2 528.9,673.1 529.3,672.1 529.7,671.3 530.1,670.5 530.5,669.9 530.9,669.4 531.3,669.1 531.7,669 532.1,669.1 532.5,669.4 532.9,669.8 533.3,670.4 533.7,671 534.1,671.8 534.5,672.7 534.9,673.6 535.3,674.5 535.7,675.5 536.1,676.4 536.5,677.4 536.9,678.3 537.3,679.2 537.7,680.3 538.1,681.5 538.5,682.7 538.9,684 539.3,685.4 539.7,686.8 540.1,688.3 540.5,689.8 540.9,691.3 541.3,692.9 541.7,694.5 542.1,696 542.5,697.6 542.9,699.2 543.3,700.7 543.7,702.2 544.1,703.7 544.5,705.1 544.9,706.4 545.3,707.7 545.7,709 546.1,710.1 546.5,711.2 546.9,712.1 547.3,713 547.7,713.7 548.1,714.3 548.5,714.9 548.9,715.5 549.3,716.1 549.7,716.7 550.1,717.2 550.5,717.8 550.9,718.3 551.3,718.7 551.7,719.1 552.1,719.5 552.5,719.8 552.9,720.1 553.3,720.3 553.7,720.4 554.1,720.5 554.5,720.5 554.9,720.4 555.3,720.3 555.7,720.1 556.1,719.8 556.5,719.6 556.9,719.2 557.3,718.9 557.7,718.5 558.1,718 558.5,717.6 558.9,717.1 559.3,716.6 559.7,716.1 560.1,715.6 560.5,715 560.9,714.5 561.3,713.9 561.7,713.4 562.1,712.9 562.5,712.3 562.9,711.8 563.3,711.3 563.7,710.7 564.1,710.1 564.5,709.5 564.9,708.8 565.3,708.1 565.7,707.3 566.1,706.6 566.5,705.8 566.9,705 567.3,704.3 567.7,703.5 568.1,702.7 568.5,702 568.9,701.3 569.3,700.6 569.7,700 570.1,699.3 570.5,698.8 570.9,698.3 571.3,697.9 571.7,697.5 572.1,697.2 572.5,696.8 572.9,696.5 573.3,696.2 573.7,695.9 574.1,695.6 574.5,695.4 574.9,695.1 575.3,695 575.7,694.8 576.1,694.7 576.5,694.6 576.9,694.6 577.3,694.6 577.7,694.7 578.1,694.8 578.5,694.9 578.9,695.1 579.3,695.2 579.7,695.4 580.1,695.6 580.5,695.8 580.9,695.9 581.3,696.1 581.7,696.3 582.1,696.4 582.5,696.5 582.9,696.6 583.3,696.6 583.7,696.7 584.1,696.7 584.5,696.7 584.9,696.8 585.3,696.8 585.7,696.8 586.1,696.8 586.5,696.9 586.9,696.9 587.3,696.9 587.7,696.9 588.1,696.9 588.5,696.9 588.9,696.8 589.3,696.8 589.7,696.7 590.1,696.5 590.5,696.4 590.9,696.2 591.3,696 591.7,695.8 592.1,695.6 592.5,695.4 592.9,695.1 593.3,694.9 593.7,694.6 594.1,694.3 594.5,694 594.9,693.8 595.3,693.5 595.7,693.2 596.1,692.9 596.5,692.6 596.9,692.4 597.3,692.1 597.7,691.8 598.1,691.6 598.5,691.3 598.9,691.1 599.3,690.9 599.7,690.7 600.1,690.5 600.5,690.4 600.9,690.2 601.3,690.1 601.7,690 602.1,689.8 602.5,689.7 602.9,689.5 603.3,689.4 603.7,689.3 604.1,689.2 604.5,689 604.9,688.9 605.3,688.8 605.7,688.7 606.1,688.6 606.5,688.5 606.9,688.5 607.3,688.4 607.7,688.3 608.1,688.3 608.5,688.3 608.9,688.3 609.3,688.3 609.7,688.4 610.1,688.5 610.5,688.6 610.9,688.7 611.3,688.8 611.7,688.9 612.1,689.1 612.5,689.3 612.9,689.5 613.3,689.7 613.7,689.9 614.1,690.1 614.5,690.3 614.9,690.5 615.3,690.7 615.7,690.9 616.1,691.1 616.5,691.4 616.9,691.6 617.3,691.7 617.7,692 618.1,692.2 618.5,692.4 618.9,692.6 619.3,692.9 619.7,693.1 620.1,693.3 620.5,693.6 620.9,693.9 621.3,694.1 621.7,694.4 622.1,694.7 622.5,695 622.9,695.3 623.3,695.5 623.7,695.8 624.1,696.1 624.5,696.4 624.9,696.7 625.3,697 625.7,697.3 626.1,697.6 626.5,697.9 626.9,698.2 627.3,698.5 627.7,698.8 628.1,699.1 628.5,699.4 628.9,699.7 629.3,700 629.7,700.3 630.1,700.6 630.5,700.9 630.9,701.2 631.3,701.4 631.7,701.7 632.1,702 632.5,702.2 632.9,702.5 633.3,702.7 633.7,703 634.1,703.2 634.5,703.4 634.9,703.6 635.3,703.9 635.7,704.1 636.1,704.2 636.5,704.4 636.9,704.6 637.3,704.8 637.7,705 638.1,705.2 638.5,705.4 638.9,705.6 639.3,705.8 639.7,706 640.1,706.2 640.5,706.4 640.9,706.6 641.3,706.8 641.7,706.9 642.1,707.1 642.5,707.3 642.9,707.4 643.3,707.6 643.7,707.8 644.1,707.9 644.5,708 644.9,708.2 645.3,708.3 645.7,708.4 646.1,708.5 646.5,708.6 646.9,708.7 647.3,708.8 647.7,708.8 648.1,708.9 648.5,708.9 648.9,709 649.3,709 649.7,709 650.1,709.1 650.5,709.1 650.9,709.1 651.3,709.2 651.7,709.2 652.1,709.3 652.5,709.3 652.9,709.3 653.3,709.3 653.7,709.4 654.1,709.4 654.5,709.4 654.9,709.5 655.3,709.5 655.7,709.5 656.1,709.5 656.5,709.5 656.9,709.6 657.3,709.6 657.7,709.6 658.1,709.6 658.5,709.6 658.9,709.6 659.3,709.7 659.7,709.7 660.1,709.7 660.5,709.7 660.9,709.7 661.3,709.7 661.7,709.7 662.1,709.7 662.5,709.7 662.9,709.7 663.3,709.7 663.7,709.7 664.1,709.7 664.5,709.7 664.9,709.7 665.3,709.7 665.7,709.6 666.1,709.6 666.5,709.6 666.9,709.6 667.3,709.6 667.7,709.6 668.1,709.5 668.5,709.5 668.9,709.5 669.3,709.5 669.7,709.4 670.1,709.4 670.5,709.4 670.9,709.4 671.3,709.3 671.7,709.3 672.1,709.3 672.5,709.2 672.9,709.2 673.3,709.1 673.7,709.1 674.1,709.1 674.5,709 674.9,709 675.3,708.9 675.7,708.9 676.1,708.8 676.5,708.8 676.9,708.7 677.3,708.7 677.7,708.6 678.1,708.6 678.5,708.5 678.9,708.4 679.3,708.4 679.7,708.3 680.1,708.3 680.5,708.2" fill="none" stroke-width="2.7" stroke-linejoin="round"/>
</g>
<path d="M123.7 239.1L123.7 186.2L124.2 185.7L125.8 185.7L126.3 186.2L126.3 239.1ZM112.4 235.3L113 206.2L114.9 199.8L115.6 199.8L115.6 235.3ZM108.8 233.1L109.4 213.6L111.3 207.9L112 207.9L112 233.1ZM117.2 232.9L119.1 211.8L120.3 211.8L122.2 232.9ZM91 236.1L93.1 217.6L94.3 217.6L96.4 236.1ZM97.4 236.3L100.8 224.3L101.7 224.3L101.9 236.3ZM125.9 226.3L129.4 217.2L130.3 217.2L130.5 226.3ZM131.9 236.6L133.6 197.3L134.8 197.3L136.5 236.6ZM142.4 233.4L138.6 197.3L137.7 197.3L137.5 233.4ZM142.9 238L143.5 218.8L145.4 210.2L146.1 210.2L146.1 238ZM145.9 239L148.1 223.4L149.3 223.4L151.5 239ZM152.2 236.3L152.2 204.5L152.7 204L154.3 204L154.8 204.5L154.8 236.3ZM157.6 236.4L161.1 206.4L162 206.4L162.2 236.4ZM164.7 239.3L164.7 227.2L165.4 227.2L167.3 231.4L167.9 239.3ZM183.1 241.8L179.2 223L178.3 223L178.1 241.8ZM182.8 241.6L184.8 214.7L186 214.7L188 241.6ZM188.9 238.2L188.9 225.3L189.6 225.3L191.5 230.7L192.1 238.2ZM195.3 242.8L195.3 206.4L196 206.4L197.9 211.9L198.5 242.8ZM199.1 243.5L199.1 218.5L199.6 218L201.2 218L201.7 218.5L201.7 243.5ZM203.7 241.5L203.7 211.3L204.2 210.8L205.8 210.8L206.3 211.3L206.3 241.5ZM210.1 241.7L210.1 217.1L210.6 216.6L212.2 216.6L212.7 217.1L212.7 241.7ZM220.7 240.9L220.7 209.5L221.4 209.5L223.3 216L223.9 240.9ZM215.9 243.2L215.9 225.3L216.6 225.3L218.5 234L219.1 243.2ZM234.3 240.7L234.3 223.4L235 223.4L236.9 232.3L237.5 240.7ZM243.9 238.3L243.9 226.2L244.4 225.7L246 225.7L246.5 226.2L246.5 238.3ZM256.9 239.7L256.9 213.7L257.6 213.7L259.5 219.6L260.1 239.7ZM264.2 238.8L264.2 219.9L264.9 219.9L266.8 225.1L267.4 238.8ZM276.1 240.9L276.7 229.2L278.6 221.8L279.3 221.8L279.3 240.9ZM282.5 240.7L282.5 218.1L283 217.6L284.6 217.6L285.1 218.1L285.1 240.7ZM284.8 239.1L286.4 216L287.6 216L289.2 239.1ZM303.7 245.1L303.7 208L304.4 208L306.3 216.9L306.9 245.1ZM308.1 246.1L308.1 192.5L308.6 192L310.2 192L310.7 192.5L310.7 246.1ZM310.7 244.6L310.7 218.5L311.2 218L312.8 218L313.3 218.5L313.3 244.6ZM297.8 244.2L299.4 226L300.6 226L302.2 244.2ZM292.7 245L292.7 230L293.4 230L295.3 234.6L295.9 245ZM259.6 238.2L261.4 226L262.6 226L264.4 238.2ZM267.4 242.1L270.4 228L271.3 228L271.5 242.1ZM272.7 243.4L272.7 224L273.4 224L275.3 230L275.9 243.4ZM278 240.5L281.4 227L282.3 227L282.5 240.5ZM289.7 241L289.7 225.5L290.2 225L291.8 225L292.3 225.5L292.3 241ZM294.3 244.4L296.4 229L297.6 229L299.7 244.4ZM300.7 244.5L300.7 222L301.4 222L303.3 226.6L303.9 244.5ZM250.7 240.2L250.7 228.5L251.2 228L252.8 228L253.3 228.5L253.3 240.2ZM245 237.9L248.4 231L249.3 231L249.5 237.9ZM89 248L91.1 253.7L91.5 253.7L92 248ZM93.9 248L95.9 251.9L96.3 251.9L97.7 248ZM98.5 248L100.5 254.2L100.9 254.2L101.8 248ZM101.7 248L104.4 252.8L104.8 252.8L105.9 248ZM105.7 248L106.7 250.3L107.1 250.3L108.9 248ZM108.1 248L110.1 252.8L110.5 252.8L112.8 248ZM111.7 248L114.4 255L114.8 255L116.1 248ZM117 248L119 252.1L119.4 252.1L120.1 248ZM120.3 248L122.5 252.3L122.9 252.3L124 248ZM125.1 248L126.1 254.3L126.5 254.3L128.9 248ZM130 248L132 250.8L132.4 250.8L133.3 248ZM135.2 248L137 252L137.4 252L138.5 248ZM138.1 248L139.2 252.8L139.6 252.8L141.7 248ZM142.2 248L143.4 254.5L143.8 254.5L145.8 248ZM144.7 248L146.6 249.4L147 249.4L148.2 248ZM147.3 248L148.8 253.8L149.2 253.8L150.8 248ZM150.7 248L153.1 249.9L153.5 249.9L154.7 248ZM153.1 248L154.3 251L154.7 251L156.7 248ZM158.3 248L159.4 252.1L159.8 252.1L162.4 248ZM161.1 248L162.5 251L162.9 251L165.8 248ZM164.1 248L166.3 250.8L166.7 250.8L167.4 248ZM168.3 248L170.6 255.2L171 255.2L172.7 248ZM171.8 248L174 253.8L174.4 253.8L175.6 248ZM174.7 248L175.9 251.5L176.3 251.5L178.5 248ZM177.9 248L180.3 252L180.7 252L181.8 248ZM181.6 248L183.9 255.2L184.3 255.2L185.6 248ZM185.2 248L186.5 251.2L186.9 251.2L188.3 248ZM189.3 248L191.4 254.4L191.8 254.4L192.7 248ZM192.6 248L194.3 253.7L194.7 253.7L197.1 248ZM194.9 248L196.3 254.7L196.7 254.7L199.2 248ZM197.8 248L199.9 253.7L200.3 253.7L202 248ZM202.5 248L204.5 251.3L204.9 251.3L206.1 248ZM205.9 248L208.6 254.1L209 254.1L210.5 248ZM209 248L210.3 253.9L210.7 253.9L212.2 248ZM213.9 248L215.7 250.6L216.1 250.6L217.2 248ZM218.8 248L220.9 249.2L221.3 249.2L223.1 248ZM223.6 248L225.4 251.6L225.8 251.6L228.1 248ZM227.5 248L229 250.8L229.4 250.8L231.3 248ZM231.9 248L233.7 254.8L234.1 254.8L235.5 248ZM235.1 248L237.5 254.7L237.9 254.7L239.3 248ZM238.9 248L240.5 250.2L240.9 250.2L243.2 248ZM243.1 248L245.1 250.6L245.5 250.6L247.2 248ZM247.1 248L249.1 251.9L249.5 251.9L251.3 248ZM251.1 248L253.1 251.4L253.5 251.4L254.2 248ZM254.4 248L256.4 252L256.8 252L257.6 248Z" fill="#000" stroke="none"/>
<path d="M92.4 468.8L92.4 402.7L92.9 402.2L94.5 402.2L95 402.7L95 468.8ZM99.5 460.7L100.1 431.8L102 425.4L102.7 425.4L102.7 460.7ZM94.7 459.1L95.3 451.6L97.2 443.7L97.9 443.7L97.9 459.1ZM104.9 462.8L104.9 441.4L105.6 441.4L107.5 449.5L108.1 462.8ZM112.1 460.9L112.7 454.4L114.6 446.6L115.3 446.6L115.3 460.9ZM118.1 460.3L118.1 437.5L118.6 437L120.2 437L120.7 437.5L120.7 460.3ZM120.7 460.5L121.3 441.5L123.2 436L123.9 436L123.9 460.5ZM124.2 461.9L124.2 448.1L124.7 447.6L126.3 447.6L126.8 448.1L126.8 461.9ZM135.9 469.1L132.9 447.6L132 447.6L131.8 469.1ZM127.8 466.2L129.8 452.4L131 452.4L133 466.2ZM141.2 459.8L141.2 448L141.9 448L143.8 456.2L144.4 459.8ZM146.4 466.9L146.4 437L147.1 437L149 443.1L149.6 466.9ZM148.8 469.8L152 454.3L152.9 454.3L153.1 469.8ZM153.6 469.6L153.6 437L154.3 437L156.2 442.3L156.8 469.6ZM158 471.6L158 453.9L158.5 453.4L160.1 453.4L160.6 453.9L160.6 471.6ZM162.4 470.7L164.5 452.4L165.7 452.4L167.8 470.7ZM170.9 468L171.5 446.6L173.4 441.4L174.1 441.4L174.1 468ZM174.5 469.1L170.5 449.5L169.6 449.5L169.4 469.1ZM177.3 470.2L177.3 437L178 437L179.9 443.6L180.5 470.2ZM187.6 471.3L184.6 430.2L183.7 430.2L183.5 471.3ZM186.4 472.2L187 444.1L188.9 439.5L189.6 439.5L189.6 472.2ZM191.2 469.8L191.8 457.6L193.7 451.8L194.4 451.8L194.4 469.8ZM198.5 473.8L199.1 449L201 444.7L201.7 444.7L201.7 473.8ZM202.4 470.3L202.4 441.8L203.1 441.8L205 446.6L205.6 470.3ZM205.3 466.1L205.3 407.5L205.8 407L207.4 407L207.9 407.5L207.9 466.1ZM212.1 472.6L212.1 423.4L212.6 422.9L214.2 422.9L214.7 423.4L214.7 472.6ZM216.9 471.6L216.9 451L217.6 451L219.5 456.9L220.1 471.6ZM225 464.8L225.6 451.3L227.5 442.7L228.2 442.7L228.2 464.8ZM229.8 476.1L229.8 434.9L230.3 434.4L231.9 434.4L232.4 434.9L232.4 476.1ZM233.7 476.1L234.3 416.3L236.2 410.5L236.9 410.5L236.9 476.1ZM235.9 474.3L237.5 441.4L238.7 441.4L240.3 474.3ZM245.8 462.5L247.7 424.4L248.9 424.4L250.8 462.5ZM249.1 468.9L249.7 458.4L251.6 450.5L252.3 450.5L252.3 468.9ZM256.5 474.2L256.5 451.4L257.2 451.4L259.1 457.8L259.7 474.2ZM259.2 474.7L261 445.6L262.2 445.6L264 474.7ZM262.3 476.1L262.9 419.7L264.8 411.9L265.5 411.9L265.5 476.1ZM267.1 478L267.1 443.2L267.6 442.7L269.2 442.7L269.7 443.2L269.7 478ZM268.7 479.6L270.7 449.5L271.9 449.5L273.9 479.6ZM273.9 479.4L273.9 453.5L274.4 453L276 453L276.5 453.5L276.5 479.4ZM281.9 479.7L282.5 452.7L284.4 445.6L285.1 445.6L285.1 479.7ZM284.3 479.2L284.3 448.1L284.8 447.6L286.4 447.6L286.9 448.1L286.9 479.2ZM288.3 478.3L290.2 463L291.4 463L293.3 478.3ZM296.2 475.9L296.2 460L296.9 460L298.8 464.7L299.4 475.9ZM88.2 482.8L89.7 485.9L90.1 485.9L92.8 482.8ZM92.9 482.8L94.8 485.8L95.2 485.8L97.2 482.8ZM96.5 482.8L98.3 484.5L98.7 484.5L99.8 482.8ZM99.3 482.8L101.3 486.4L101.7 486.4L103.4 482.8ZM101.8 482.8L103.1 484.1L103.5 484.1L106.1 482.8ZM104.8 482.8L106.5 485.2L106.9 485.2L108.5 482.8ZM109.3 482.8L111.4 485L111.8 485L113.8 482.8ZM112.2 482.8L113.8 486L114.2 486L116 482.8ZM116.8 482.8L118.3 486.4L118.7 486.4L121.2 482.8ZM121.5 482.8L123.7 486.6L124.1 486.6L125.1 482.8ZM126.6 482.8L127.3 486.8L127.7 486.8L130.1 482.8ZM131.2 482.8L132.8 485.7L133.2 485.7L135.8 482.8ZM134.4 482.8L135.3 483.8L135.7 483.8L137.7 482.8ZM136 482.8L137.9 485.2L138.3 485.2L140.4 482.8ZM140.3 482.8L142.3 484.1L142.7 484.1L144.5 482.8ZM145.5 482.8L146.9 486.1L147.3 486.1L149.6 482.8ZM150.5 482.8L152.8 485.9L153.2 485.9L154.2 482.8ZM155.7 482.8L157.4 486.1L157.8 486.1L159 482.8ZM158.5 482.8L160.6 485.7L161 485.7L163.3 482.8ZM163.8 482.8L165.7 484.8L166.1 484.8L166.9 482.8ZM166.5 482.8L168.6 484.7L169 484.7L170.3 482.8ZM170.7 482.8L172.7 483.6L173.1 483.6L174.2 482.8ZM175.2 482.8L176.9 483.5L177.3 483.5L179.6 482.8ZM179.3 482.8L180.2 486L180.6 486L182.8 482.8ZM182.3 482.8L184.9 486.3L185.3 486.3L186.8 482.8ZM186 482.8L187.5 486.2L187.9 486.2L190.2 482.8ZM191.4 482.8L192.7 486L193.1 486L194.8 482.8ZM196.6 482.8L198.4 486.7L198.8 486.7L200.1 482.8ZM201.7 482.8L203.6 486.2L204 486.2L205.1 482.8ZM204.6 482.8L207 483.8L207.4 483.8L208.2 482.8ZM206.8 482.8L208.4 484.1L208.8 484.1L210.9 482.8ZM211.3 482.8L213.6 485.8L214 485.8L215 482.8ZM214.2 482.8L215.6 486.6L216 486.6L217.4 482.8ZM218 482.8L219.6 483.4L220 483.4L221.4 482.8ZM221.1 482.8L223.1 485.5L223.5 485.5L225.4 482.8ZM224.5 482.8L225.9 484.8L226.3 484.8L227.5 482.8ZM228.3 482.8L230.8 485.3L231.2 485.3L232.2 482.8ZM233.2 482.8L234.9 485.9L235.3 485.9L236.2 482.8ZM235.2 482.8L236.4 485L236.8 485L239.3 482.8ZM238.9 482.8L241.2 485.2L241.6 485.2L243.2 482.8ZM242.9 482.8L244.2 484L244.6 484L246.8 482.8ZM247.2 482.8L248.7 485.2L249.1 485.2L250.7 482.8ZM250 482.8L251.2 484.9L251.6 484.9L253.6 482.8ZM253 482.8L255.2 486.2L255.6 486.2L256.7 482.8ZM257 482.8L258.9 485.9L259.3 485.9L260.8 482.8Z" fill="#000" stroke="none"/>
<path d="M92.2 706.3L95.4 696.8L96.3 696.8L96.5 706.3ZM106.3 712.4L108.5 667.3L109.7 667.3L111.9 712.4ZM103.7 711.2L107.6 683.7L108.5 683.7L108.7 711.2ZM114.2 711.3L114.2 691.8L114.9 691.8L116.8 698.7L117.4 711.3ZM117.8 705.9L118.4 694.5L120.3 686.6L121 686.6L121 705.9ZM123.7 702.9L123.7 696.2L124.2 695.7L125.8 695.7L126.3 696.2L126.3 702.9ZM127.5 710.2L128.1 707.1L130 698.2L130.7 698.2L130.7 710.2ZM131.9 715.5L133.6 699.5L134.8 699.5L136.5 715.5ZM137.7 714.9L137.7 701L138.4 701L140.3 705.9L140.9 714.9ZM145.1 707.1L145.1 692.9L145.6 692.4L147.2 692.4L147.7 692.9L147.7 707.1ZM149.7 714.5L150.3 704L152.2 698.2L152.9 698.2L152.9 714.5ZM156.5 714L156.5 697.2L157.2 697.2L159.1 705.2L159.7 714ZM159.4 714.6L160 700.2L161.9 693.7L162.6 693.7L162.6 714.6ZM162.9 716.4L162.9 676.9L163.4 676.4L165 676.4L165.5 676.9L165.5 716.4ZM166.7 715.4L166.7 681.4L167.4 681.4L169.3 688L169.9 715.4ZM168.6 715.2L168.6 683.7L169.3 683.7L171.2 690.3L171.8 715.2ZM172.4 715.2L174.2 699.5L175.4 699.5L177.2 715.2ZM178.5 714.6L180 700.1L181.2 700.1L182.7 714.6ZM183.5 712.7L184.1 701.6L186 694.3L186.7 694.3L186.7 712.7ZM187.9 714.5L187.9 700.6L188.4 700.1L190 700.1L190.5 700.6L190.5 714.5ZM204.3 715.3L204.9 702.1L206.8 697.6L207.5 697.6L207.5 715.3ZM212.1 716.7L212.1 703.5L212.6 703L214.2 703L214.7 703.5L214.7 716.7ZM222.1 716.1L222.7 711.9L224.6 705.9L225.3 705.9L225.3 716.1ZM236.2 714.3L237.9 699.2L239.1 699.2L240.8 714.3ZM243.3 715L243.9 698.6L245.8 692.4L246.5 692.4L246.5 715ZM249.7 715.4L249.7 697.2L250.4 697.2L252.3 701.7L252.9 715.4ZM258.4 715.7L258.4 691.8L259.1 691.8L261 696.6L261.6 715.7ZM263.8 711.8L265.9 704L267.1 704L269.2 711.8ZM268.5 710.4L272.3 697.2L273.2 697.2L273.4 710.4ZM280.9 698L280.9 669.5L281.4 669L283 669L283.5 669.5L283.5 698ZM284.6 705.4L285.2 682.1L287.1 676L287.8 676L287.8 705.4ZM282.2 698.5L282.2 684L282.9 684L284.8 688.6L285.4 698.5ZM288.4 710.9L288.4 699L289.1 699L291 706.2L291.6 710.9ZM294 701.9L294 689.2L294.5 688.7L296.1 688.7L296.6 689.2L296.6 701.9ZM298.7 706.9L298.7 694.3L299.4 694.3L301.3 698.9L301.9 706.9ZM303.1 700.9L303.7 691.4L305.6 682.7L306.3 682.7L306.3 700.9ZM310.3 706.4L310.3 673.7L311 673.7L312.9 680.1L313.5 706.4ZM314.3 707.4L314.9 663.2L317 656.9L317.7 656.9L317.7 707.4ZM318.6 702L318.6 697.2L319.3 697.2L321.4 704.4L322 702ZM88.8 721.8L90.4 725.3L90.8 725.3L92.2 721.8ZM93.7 721.8L95.8 729.2L96.2 729.2L97.7 721.8ZM97 721.8L98.9 726.4L99.3 726.4L100.4 721.8ZM102.2 721.8L104.5 724.4L104.9 724.4L106.1 721.8ZM106.3 721.8L107.1 723.8L107.5 723.8L109.8 721.8ZM109.7 721.8L112.5 727.6L112.9 727.6L114.3 721.8ZM113.3 721.8L115.1 723.5L115.5 723.5L116.7 721.8ZM117.9 721.8L120.3 729.2L120.7 729.2L121.6 721.8ZM120 721.8L121.6 727L122 727L124.3 721.8ZM122.4 721.8L124 729.1L124.4 729.1L127.1 721.8ZM126 721.8L128.3 726.3L128.7 726.3L130 721.8ZM131.6 721.8L133 728.1L133.4 728.1L135.4 721.8ZM136.7 721.8L138.4 726.3L138.8 726.3L141.1 721.8ZM139.8 721.8L141.6 727.9L142 727.9L143.8 721.8ZM142.6 721.8L145.2 728.9L145.6 728.9L147.2 721.8ZM147.7 721.8L150.1 723.2L150.5 723.2L151.4 721.8ZM150.5 721.8L152.1 723L152.5 723L153.9 721.8ZM152.7 721.8L155.1 728.1L155.5 728.1L156.8 721.8ZM156 721.8L158.4 729L158.8 729L160.2 721.8ZM159.6 721.8L161.4 724.5L161.8 724.5L163.5 721.8ZM161.9 721.8L163.5 727.2L163.9 727.2L166.2 721.8ZM166.1 721.8L168.5 728.2L168.9 728.2L170.4 721.8ZM169.9 721.8L171.5 728.1L171.9 728.1L173.6 721.8ZM174.8 721.8L177.2 728L177.6 728L179.6 721.8ZM179.7 721.8L180.9 727.6L181.3 727.6L182.8 721.8ZM182.7 721.8L183.6 729L184 729L185.9 721.8ZM184.8 721.8L185.9 728.3L186.3 728.3L188.4 721.8ZM188.1 721.8L189.1 724L189.5 724L191.2 721.8ZM192.8 721.8L195.6 725.1L196 725.1L197.5 721.8ZM197.2 721.8L199.1 726.7L199.5 726.7L201.8 721.8ZM201.2 721.8L203.9 723.9L204.3 723.9L205.8 721.8ZM206.7 721.8L208.1 725.3L208.5 725.3L210.6 721.8ZM209.7 721.8L211.1 722.9L211.5 722.9L213 721.8ZM214.1 721.8L215.5 723L215.9 723L218.9 721.8ZM217.5 721.8L219.9 728.1L220.3 728.1L221.2 721.8ZM219.6 721.8L221 727.3L221.4 727.3L224.2 721.8ZM224.4 721.8L225.1 725.6L225.5 725.6L227.6 721.8ZM229.3 721.8L231.9 726.1L232.3 726.1L233.5 721.8ZM234.6 721.8L236.7 727.4L237.1 727.4L238.1 721.8ZM236.7 721.8L238.9 728L239.3 728L241 721.8ZM242.5 721.8L244 725.3L244.4 725.3L246 721.8ZM247.4 721.8L248.3 728.3L248.7 728.3L250.6 721.8ZM251.4 721.8L253.2 727.6L253.6 727.6L255.1 721.8ZM254.6 721.8L256.8 724.3L257.2 724.3L258.3 721.8ZM259.3 721.8L260 726.9L260.4 726.9L262.5 721.8ZM264.3 721.8L266.5 725.5L266.9 725.5L267.7 721.8ZM268.2 721.8L269.4 725.8L269.8 725.8L271.9 721.8ZM270.7 721.8L272.3 726L272.7 726L274.6 721.8ZM274.3 721.8L275.9 724.8L276.3 724.8L278.4 721.8ZM278.1 721.8L279.1 728.6L279.5 728.6L281.7 721.8ZM283.5 721.8L284.9 727.1L285.3 727.1L287.2 721.8ZM286.8 721.8L288.2 726.9L288.6 726.9L289.8 721.8ZM290.4 721.8L292.1 723.2L292.5 723.2L294.4 721.8ZM295 721.8L297 727.3L297.4 727.3L299.1 721.8ZM298.2 721.8L299.6 725.6L300 725.6L302.2 721.8ZM303.6 721.8L304.8 723.6L305.2 723.6L307 721.8ZM308.3 721.8L309.6 725.8L310 725.8L311.5 721.8ZM312.7 721.8L314 729.2L314.4 729.2L316.3 721.8ZM314.7 721.8L315.8 723.2L316.2 723.2L318.9 721.8ZM317.1 721.8L318.2 724.3L318.6 724.3L321.1 721.8ZM320.4 721.8L322.7 729.3L323.1 729.3L325.1 721.8Z" fill="#000" stroke="none"/>
<g stroke="#000" fill="none" stroke-linecap="butt">
<line x1="96" y1="189.9" x2="96" y2="232" stroke-width="2.0"/>
<line x1="93.6" y1="401" x2="93.6" y2="462" stroke-width="2.2"/>
<rect x="87.4" y="18.5" width="593.8" height="702.5" stroke-width="2.75"/>
<rect x="699.3" y="18.5" width="248.3" height="702.5" stroke-width="2.75"/>
<line x1="87.4" y1="247.2" x2="681.2" y2="247.2" stroke-width="2.75"/>
<line x1="699.3" y1="247.2" x2="947.6" y2="247.2" stroke-width="2.75"/>
<line x1="87.4" y1="482" x2="681.2" y2="482" stroke-width="2.75"/>
<line x1="699.3" y1="482" x2="947.6" y2="482" stroke-width="2.75"/>
<line x1="131.7" y1="18.5" x2="131.7" y2="33.5" stroke-width="2.45"/>
<line x1="161.8" y1="18.5" x2="161.8" y2="33.5" stroke-width="2.45"/>
<line x1="183.1" y1="18.5" x2="183.1" y2="33.5" stroke-width="2.45"/>
<line x1="199.7" y1="18.5" x2="199.7" y2="33.5" stroke-width="2.45"/>
<line x1="213.2" y1="18.5" x2="213.2" y2="33.5" stroke-width="2.45"/>
<line x1="224.6" y1="18.5" x2="224.6" y2="33.5" stroke-width="2.45"/>
<line x1="234.5" y1="18.5" x2="234.5" y2="33.5" stroke-width="2.45"/>
<line x1="243.3" y1="18.5" x2="243.3" y2="33.5" stroke-width="2.45"/>
<line x1="251.1" y1="18.5" x2="251.1" y2="49" stroke-width="2.45"/>
<line x1="302.5" y1="18.5" x2="302.5" y2="33.5" stroke-width="2.45"/>
<line x1="332.6" y1="18.5" x2="332.6" y2="33.5" stroke-width="2.45"/>
<line x1="353.9" y1="18.5" x2="353.9" y2="33.5" stroke-width="2.45"/>
<line x1="370.5" y1="18.5" x2="370.5" y2="33.5" stroke-width="2.45"/>
<line x1="384" y1="18.5" x2="384" y2="33.5" stroke-width="2.45"/>
<line x1="395.4" y1="18.5" x2="395.4" y2="33.5" stroke-width="2.45"/>
<line x1="405.3" y1="18.5" x2="405.3" y2="33.5" stroke-width="2.45"/>
<line x1="414.1" y1="18.5" x2="414.1" y2="33.5" stroke-width="2.45"/>
<line x1="421.9" y1="18.5" x2="421.9" y2="49" stroke-width="2.45"/>
<line x1="473.3" y1="18.5" x2="473.3" y2="33.5" stroke-width="2.45"/>
<line x1="503.4" y1="18.5" x2="503.4" y2="33.5" stroke-width="2.45"/>
<line x1="524.7" y1="18.5" x2="524.7" y2="33.5" stroke-width="2.45"/>
<line x1="541.3" y1="18.5" x2="541.3" y2="33.5" stroke-width="2.45"/>
<line x1="554.8" y1="18.5" x2="554.8" y2="33.5" stroke-width="2.45"/>
<line x1="566.2" y1="18.5" x2="566.2" y2="33.5" stroke-width="2.45"/>
<line x1="576.1" y1="18.5" x2="576.1" y2="33.5" stroke-width="2.45"/>
<line x1="584.9" y1="18.5" x2="584.9" y2="33.5" stroke-width="2.45"/>
<line x1="592.7" y1="18.5" x2="592.7" y2="49" stroke-width="2.45"/>
<line x1="644.1" y1="18.5" x2="644.1" y2="33.5" stroke-width="2.45"/>
<line x1="674.2" y1="18.5" x2="674.2" y2="33.5" stroke-width="2.45"/>
<line x1="131.9" y1="247.2" x2="131.9" y2="262.2" stroke-width="2.45"/>
<line x1="162.4" y1="247.2" x2="162.4" y2="262.2" stroke-width="2.45"/>
<line x1="184" y1="247.2" x2="184" y2="262.2" stroke-width="2.45"/>
<line x1="200.8" y1="247.2" x2="200.8" y2="262.2" stroke-width="2.45"/>
<line x1="214.4" y1="247.2" x2="214.4" y2="262.2" stroke-width="2.45"/>
<line x1="226" y1="247.2" x2="226" y2="262.2" stroke-width="2.45"/>
<line x1="236" y1="247.2" x2="236" y2="262.2" stroke-width="2.45"/>
<line x1="244.9" y1="247.2" x2="244.9" y2="262.2" stroke-width="2.45"/>
<line x1="252.8" y1="247.2" x2="252.8" y2="277.7" stroke-width="2.45"/>
<line x1="304.8" y1="247.2" x2="304.8" y2="262.2" stroke-width="2.45"/>
<line x1="335.3" y1="247.2" x2="335.3" y2="262.2" stroke-width="2.45"/>
<line x1="356.9" y1="247.2" x2="356.9" y2="262.2" stroke-width="2.45"/>
<line x1="373.7" y1="247.2" x2="373.7" y2="262.2" stroke-width="2.45"/>
<line x1="387.3" y1="247.2" x2="387.3" y2="262.2" stroke-width="2.45"/>
<line x1="398.9" y1="247.2" x2="398.9" y2="262.2" stroke-width="2.45"/>
<line x1="408.9" y1="247.2" x2="408.9" y2="262.2" stroke-width="2.45"/>
<line x1="417.8" y1="247.2" x2="417.8" y2="262.2" stroke-width="2.45"/>
<line x1="425.7" y1="247.2" x2="425.7" y2="277.7" stroke-width="2.45"/>
<line x1="477.7" y1="247.2" x2="477.7" y2="262.2" stroke-width="2.45"/>
<line x1="508.2" y1="247.2" x2="508.2" y2="262.2" stroke-width="2.45"/>
<line x1="529.8" y1="247.2" x2="529.8" y2="262.2" stroke-width="2.45"/>
<line x1="546.6" y1="247.2" x2="546.6" y2="262.2" stroke-width="2.45"/>
<line x1="560.2" y1="247.2" x2="560.2" y2="262.2" stroke-width="2.45"/>
<line x1="571.8" y1="247.2" x2="571.8" y2="262.2" stroke-width="2.45"/>
<line x1="581.8" y1="247.2" x2="581.8" y2="262.2" stroke-width="2.45"/>
<line x1="590.7" y1="247.2" x2="590.7" y2="262.2" stroke-width="2.45"/>
<line x1="598.6" y1="247.2" x2="598.6" y2="277.7" stroke-width="2.45"/>
<line x1="650.6" y1="247.2" x2="650.6" y2="262.2" stroke-width="2.45"/>
<line x1="131.9" y1="482" x2="131.9" y2="497" stroke-width="2.45"/>
<line x1="162.4" y1="482" x2="162.4" y2="497" stroke-width="2.45"/>
<line x1="184" y1="482" x2="184" y2="497" stroke-width="2.45"/>
<line x1="200.8" y1="482" x2="200.8" y2="497" stroke-width="2.45"/>
<line x1="214.4" y1="482" x2="214.4" y2="497" stroke-width="2.45"/>
<line x1="226" y1="482" x2="226" y2="497" stroke-width="2.45"/>
<line x1="236" y1="482" x2="236" y2="497" stroke-width="2.45"/>
<line x1="244.9" y1="482" x2="244.9" y2="497" stroke-width="2.45"/>
<line x1="252.8" y1="482" x2="252.8" y2="512.5" stroke-width="2.45"/>
<line x1="304.8" y1="482" x2="304.8" y2="497" stroke-width="2.45"/>
<line x1="335.3" y1="482" x2="335.3" y2="497" stroke-width="2.45"/>
<line x1="356.9" y1="482" x2="356.9" y2="497" stroke-width="2.45"/>
<line x1="373.7" y1="482" x2="373.7" y2="497" stroke-width="2.45"/>
<line x1="387.3" y1="482" x2="387.3" y2="497" stroke-width="2.45"/>
<line x1="398.9" y1="482" x2="398.9" y2="497" stroke-width="2.45"/>
<line x1="408.9" y1="482" x2="408.9" y2="497" stroke-width="2.45"/>
<line x1="417.8" y1="482" x2="417.8" y2="497" stroke-width="2.45"/>
<line x1="425.7" y1="482" x2="425.7" y2="512.5" stroke-width="2.45"/>
<line x1="477.7" y1="482" x2="477.7" y2="497" stroke-width="2.45"/>
<line x1="508.2" y1="482" x2="508.2" y2="497" stroke-width="2.45"/>
<line x1="529.8" y1="482" x2="529.8" y2="497" stroke-width="2.45"/>
<line x1="546.6" y1="482" x2="546.6" y2="497" stroke-width="2.45"/>
<line x1="560.2" y1="482" x2="560.2" y2="497" stroke-width="2.45"/>
<line x1="571.8" y1="482" x2="571.8" y2="497" stroke-width="2.45"/>
<line x1="581.8" y1="482" x2="581.8" y2="497" stroke-width="2.45"/>
<line x1="590.7" y1="482" x2="590.7" y2="497" stroke-width="2.45"/>
<line x1="598.6" y1="482" x2="598.6" y2="512.5" stroke-width="2.45"/>
<line x1="650.6" y1="482" x2="650.6" y2="497" stroke-width="2.45"/>
<line x1="87.4" y1="190" x2="96.6" y2="190" stroke-width="2.45"/>
<line x1="87.4" y1="132.8" x2="96.6" y2="132.8" stroke-width="2.45"/>
<line x1="87.4" y1="75.7" x2="96.6" y2="75.7" stroke-width="2.45"/>
<line x1="87.4" y1="423.3" x2="96.6" y2="423.3" stroke-width="2.45"/>
<line x1="681.2" y1="423.3" x2="672" y2="423.3" stroke-width="2.45"/>
<line x1="87.4" y1="364.6" x2="96.6" y2="364.6" stroke-width="2.45"/>
<line x1="681.2" y1="364.6" x2="672" y2="364.6" stroke-width="2.45"/>
<line x1="87.4" y1="305.9" x2="96.6" y2="305.9" stroke-width="2.45"/>
<line x1="681.2" y1="305.9" x2="672" y2="305.9" stroke-width="2.45"/>
<line x1="87.4" y1="661.2" x2="96.6" y2="661.2" stroke-width="2.45"/>
<line x1="681.2" y1="661.2" x2="672" y2="661.2" stroke-width="2.45"/>
<line x1="87.4" y1="601.5" x2="96.6" y2="601.5" stroke-width="2.45"/>
<line x1="681.2" y1="601.5" x2="672" y2="601.5" stroke-width="2.45"/>
<line x1="87.4" y1="541.8" x2="96.6" y2="541.8" stroke-width="2.45"/>
<line x1="681.2" y1="541.8" x2="672" y2="541.8" stroke-width="2.45"/>
<line x1="88.85" y1="125.7" x2="680.2" y2="125.7" stroke-width="2.3" stroke-dasharray="2.3 7.02"/>
<line x1="88.85" y1="370.3" x2="680.2" y2="370.3" stroke-width="2.3" stroke-dasharray="2.3 7.02"/>
<line x1="96.35" y1="590.5" x2="680.2" y2="590.5" stroke-width="2.3" stroke-dasharray="2.3 7.02"/>
<line x1="710.3" y1="18.5" x2="710.3" y2="27.7" stroke-width="2.45"/>
<line x1="766.9" y1="18.5" x2="766.9" y2="27.7" stroke-width="2.45"/>
<line x1="823.5" y1="18.5" x2="823.5" y2="27.7" stroke-width="2.45"/>
<line x1="880.2" y1="18.5" x2="880.2" y2="27.7" stroke-width="2.45"/>
<line x1="936.8" y1="18.5" x2="936.8" y2="27.7" stroke-width="2.45"/>
<line x1="710.3" y1="247.2" x2="710.3" y2="238" stroke-width="2.45"/>
<line x1="710.3" y1="247.2" x2="710.3" y2="256.4" stroke-width="2.45"/>
<line x1="766.9" y1="247.2" x2="766.9" y2="238" stroke-width="2.45"/>
<line x1="766.9" y1="247.2" x2="766.9" y2="256.4" stroke-width="2.45"/>
<line x1="823.5" y1="247.2" x2="823.5" y2="238" stroke-width="2.45"/>
<line x1="823.5" y1="247.2" x2="823.5" y2="256.4" stroke-width="2.45"/>
<line x1="880.2" y1="247.2" x2="880.2" y2="238" stroke-width="2.45"/>
<line x1="880.2" y1="247.2" x2="880.2" y2="256.4" stroke-width="2.45"/>
<line x1="936.8" y1="247.2" x2="936.8" y2="238" stroke-width="2.45"/>
<line x1="936.8" y1="247.2" x2="936.8" y2="256.4" stroke-width="2.45"/>
<line x1="710.3" y1="482" x2="710.3" y2="472.8" stroke-width="2.45"/>
<line x1="710.3" y1="482" x2="710.3" y2="491.2" stroke-width="2.45"/>
<line x1="766.9" y1="482" x2="766.9" y2="472.8" stroke-width="2.45"/>
<line x1="766.9" y1="482" x2="766.9" y2="491.2" stroke-width="2.45"/>
<line x1="823.5" y1="482" x2="823.5" y2="472.8" stroke-width="2.45"/>
<line x1="823.5" y1="482" x2="823.5" y2="491.2" stroke-width="2.45"/>
<line x1="880.2" y1="482" x2="880.2" y2="472.8" stroke-width="2.45"/>
<line x1="880.2" y1="482" x2="880.2" y2="491.2" stroke-width="2.45"/>
<line x1="936.8" y1="482" x2="936.8" y2="472.8" stroke-width="2.45"/>
<line x1="936.8" y1="482" x2="936.8" y2="491.2" stroke-width="2.45"/>
<line x1="710.3" y1="721" x2="710.3" y2="711.8" stroke-width="2.45"/>
<line x1="766.9" y1="721" x2="766.9" y2="711.8" stroke-width="2.45"/>
<line x1="823.5" y1="721" x2="823.5" y2="711.8" stroke-width="2.45"/>
<line x1="880.2" y1="721" x2="880.2" y2="711.8" stroke-width="2.45"/>
<line x1="936.8" y1="721" x2="936.8" y2="711.8" stroke-width="2.45"/>
<line x1="699.3" y1="60.7" x2="708.5" y2="60.7" stroke-width="2.45"/>
<line x1="947.6" y1="60.7" x2="938.4" y2="60.7" stroke-width="2.45"/>
<line x1="699.3" y1="108.1" x2="708.5" y2="108.1" stroke-width="2.45"/>
<line x1="947.6" y1="108.1" x2="938.4" y2="108.1" stroke-width="2.45"/>
<line x1="699.3" y1="155.6" x2="708.5" y2="155.6" stroke-width="2.45"/>
<line x1="947.6" y1="155.6" x2="938.4" y2="155.6" stroke-width="2.45"/>
<line x1="699.3" y1="203.1" x2="708.5" y2="203.1" stroke-width="2.45"/>
<line x1="947.6" y1="203.1" x2="938.4" y2="203.1" stroke-width="2.45"/>
<line x1="699.3" y1="305.8" x2="708.5" y2="305.8" stroke-width="2.45"/>
<line x1="947.6" y1="305.8" x2="938.4" y2="305.8" stroke-width="2.45"/>
<line x1="699.3" y1="365" x2="708.5" y2="365" stroke-width="2.45"/>
<line x1="947.6" y1="365" x2="938.4" y2="365" stroke-width="2.45"/>
<line x1="699.3" y1="425" x2="708.5" y2="425" stroke-width="2.45"/>
<line x1="947.6" y1="425" x2="938.4" y2="425" stroke-width="2.45"/>
<line x1="699.3" y1="507.5" x2="708.5" y2="507.5" stroke-width="2.45"/>
<line x1="947.6" y1="507.5" x2="938.4" y2="507.5" stroke-width="2.45"/>
<line x1="699.3" y1="555" x2="708.5" y2="555" stroke-width="2.45"/>
<line x1="947.6" y1="555" x2="938.4" y2="555" stroke-width="2.45"/>
<line x1="699.3" y1="602.5" x2="708.5" y2="602.5" stroke-width="2.45"/>
<line x1="947.6" y1="602.5" x2="938.4" y2="602.5" stroke-width="2.45"/>
<line x1="699.3" y1="650.2" x2="708.5" y2="650.2" stroke-width="2.45"/>
<line x1="947.6" y1="650.2" x2="938.4" y2="650.2" stroke-width="2.45"/>
<line x1="699.3" y1="697.8" x2="708.5" y2="697.8" stroke-width="2.45"/>
<line x1="947.6" y1="697.8" x2="938.4" y2="697.8" stroke-width="2.45"/>
</g>
<g stroke="#000" stroke-width="2.5" fill="#000">
<path d="M811.6 51V63M886.5 66.3V78.3M744.1 119.8V131.8M790.2 120.1V132.1M905.4 147.7V159.7M916.2 205.2V217.2M765.5 247.2V335.6M784.1 284V300.8M717.8 299V315.8M849.7 291.5V306.5M877.9 264.8V336.8M744.5 302.9V317.9M785.3 291.8V327.8M809 302.6V319.4M920.5 296.9V323.9M924.4 304.1V331.1M936.4 306.5V333.5M749 305V338M858.4 305.6V335.6M874 312.2V330.2M910.6 311.9V332.9M826 314.6V338.6M893.5 316.1V340.1M744.5 323V338M768.8 321.5V345.5M778.7 324.5V342.5M803.6 324.5V339.5M807.5 324.5V339.5M817.1 324.5V339.5M819.5 327.5V342.5M844.9 302V362M926.8 321.5V345.5M774.8 329.9V344.9M815 329V347M796.4 329.6V347.6M728 331.1V352.1M827.8 328.4V352.4M900.4 329.9V350.9M933.4 327.5V351.5M853 335.9V350.9M872.8 335.6V350.6M797.9 335V353M768.8 335V353M838.9 332V353M766.1 337.1V355.1M752.9 338V356M780.8 341V356M818 339.5V357.5M895.9 335V359M919.9 336.5V354.5M934.3 336.5V357.5M740 341.6V359.6M788.6 343.1V358.1M783.8 343.1V358.1M834.4 341V362M841.9 338.6V362.6M889.9 338V362M914.5 340.1V361.1M714.8 343.1V367.1M728.9 344V368M768.8 341.9V368.9M809.9 347.6V365.6M818.3 347.6V365.6M837.4 344.6V368.6M844.9 345.5V369.5M892.3 344.6V368.6M904 348.2V366.2M734 345.5V372.5M740.6 348.5V369.5M752.9 349.1V370.1M880 350.3V368.3M796.1 351.5V372.5M719 353.9V374.9M760.1 349.4V379.3M731 350.6V380.5M840.4 349.4V379.3M846.4 351.5V378.4M895.9 351.5V375.4M901.3 353V374M928 354.5V372.5M936.4 353.9V371.9M727.1 353.9V383.8M752 356V379.9M831.4 359.9V374.9M910.3 357.5V375.4M915.4 356V376.9M931.9 354.5V378.4M716.9 363.8V381.7M748.4 359V382.9M856 361.1V379M868.9 363.5V381.4M876.1 361.1V388M891.4 361.4V385.3M885.4 367.1V385M811.1 367.1V388M732.8 364.1V394M741.5 367.1V391M919.3 366.5V387.4M751.4 374V391.9M793.4 376V391M821.9 373.1V394M917.8 371V394.9M718.4 376V397M727.1 376.9V400.9M734 371.6V410.5M757.1 383.5V401.5M869.5 377.5V395.5M880.6 376.9V397.9M889 380.5V398.5M867.7 382.9V400.9M931.3 377.8V398.8M799.1 367.1V421M925 383.5V404.5M933.4 384.4V402.4M819.5 389.5V407.5M863.8 390.4V405.4M889.9 388.3V406.3M725.9 391.9V409.9M725.6 395.5V413.5M759.8 397.3V412.3M915.4 390.4V411.4M911.8 391.9V412.9M930.4 398.8V416.8M909.7 400.6V433.6M902.5 416.5V433.3M927.4 425.8V446.8M860.8 440.8V467.8M838.3 336.5V357.5M842.5 342.5V366.5M835.9 348.5V372.5M844.3 335V359M839.5 342.5V363.5M730.4 347V374M735.5 344.6V368.6M892.9 342.5V363.5M816.5 333.5V351.5M876 494.4V546.5M756.2 516.7V568.8M789.9 678.8V721M801.3 643.2V695.3M804.3 632.2V684.3M822.1 628.5V680.6M828.8 622.4V674.5M741.5 613.2V665.3M740 604V656.1M714.9 552.6V604.6M760.5 546.1V595.1M899.3 539.7V591.8M906 552V604M907.8 585V637.1M916.1 531.1V583.2M919.2 529V581.1M929.3 599.4V651.5M933.3 568.2V620.3M934.8 580.4V632.5M839.5 554.4V606.5M854.6 558.7V610.8M868.9 569.7V621.8M893.4 553.5V605.6M881.8 605.6V657.6M888.5 588.7V640.8M874.2 593.3V645.4M849.6 604.2V649.9M852 604.1V658.3M792 599.1V647.5M796.7 604.3V654.1M794.9 605.1V661M772.6 578.9V628.4M770.7 591.9V638.5M770.6 584.4V638M795 594.8V646.7M813.3 585.7V640.3M757.7 590.3V639.4M757.2 560.4V613.3M757.3 577.8V630.4M794.4 581.3V637.2M877.4 574.9V620.2M877.4 569.2V620.4M851.1 592.4V641.5M724.6 537.8V589M773.5 589.3V639.3M816.4 581.2V636.3M816.9 579.6V627.1M817.9 603.9V659.2M760.1 584.5V640.3M767.5 577.8V632.8M769.9 602.9V650.8M767 581.5V634.8M757.1 580.1V628M804.7 585.9V638.5M801.8 607.2V660.4M804.5 607.9V655.7M886.2 568.7V614.5M861.9 588.6V639.2M857 587.3V636M787.8 582V636.1M797.2 600.6V654.8M788.8 606.2V653.8M742.2 579.9V628.8M742.5 591.4V636M750.2 556V610.3M724.3 560.1V612.1M722.7 551.7V606.3M717.9 557.6V603.5M797 594.6V647.1M883.3 575V626.8M878.1 558.1V612.8M879.7 560.2V605.4M882 575.2V630.8M758.4 573.9V624.4M847.6 567.2V612.4M835.1 605.5V654.1M832.5 591.1V640.6M832.6 592.6V646.3M802.4 601.8V653.7M796.3 608.4V658.1M797.2 601.5V649.3M880.1 580.1V636.4M878.5 561.8V606.2M759.3 588.8V633M718.3 550.5V604.1M725.7 537.6V583.2M723.1 552V598M848.4 592.3V644M847.7 602V647.2M845.6 584.7V636.6M814.2 605.1V651M810.3 598.1V647.5M806.6 595.3V642.1M801.4 589.4V639.3M754.1 570.8V621.7M752.3 572.8V626M805.9 606.5V651.5M807.3 601V647.2M767.5 576.8V622.4M764.3 604.6V652.5M771.7 585.6V629.8M750.3 587V641.4M895.6 566.2V612.2M890.9 537.6V585.2M800.9 607.6V659.6M802 584.7V635.4M779.5 597V651.5M773.6 597.3V643.6M777.5 570.3V619.9M767.6 603.3V653.2M769 583.3V637M868.1 600.3V656.5M762.5 580.9V637.1M766.6 578.3V623.4M764.7 601.3V645.8M781.8 589V642.1M782.9 582.2V636.8M781.4 592.4V641.4M879.3 557.5V606.5M744.7 600.6V649.7M735 573.1V618.8M780.7 592.1V641.3M776.4 581.3V636.4M776.3 590.1V643.3M822.5 603.5V654.5M858.4 597.6V644M816.2 579.9V625.3M813.9 584.9V635.4M770.3 582.1V629.9M770 563.8V618.5M715.7 556.3V604.3M760.9 588.1V637.9M758.8 564.8V620.1M713.4 545.5V600M715.9 552.5V606.1M713.7 549.2V600.7M893.7 572V621.2M771.6 592V645.2M774.3 588.9V634.8M769 580.5V624.7M717 555.6V607.3M764.2 567.9V614.8M765.5 578.8V627.8M836.1 590.8V635M835.2 582.8V637.8M784.3 603V649.7M780.8 604.2V654.6M851.3 600.4V654.3M736.1 554.8V603.7M732.8 545V596.5M883.1 550.3V602.8M878.8 547.1V600.4M883.2 547.6V598.1M800.2 594.8V642M767.7 600.9V645.9M735.2 552.8V600M767.7 571.4V617M767 574.8V621.1M791.2 593V640.2M758.5 590.3V640.9M811.9 606.2V657.1M808.5 583.9V639.2M772.7 560.2V614.3M845.5 586.2V637.9M848 580.4V629.8M847.7 615.7V660.6M796.6 599.4V652.4M798.3 595.1V649.6M798.7 604.7V656.9M780.9 587.5V636.8M780.1 589V634.6M731.4 541.7V596.4M758 570.4V625.6M759.4 581.6V633.2M760.5 563.2V618M825.7 602.7V654.6M772.3 594V647.4M779.6 586.1V633.8M763.7 593.6V637.8M758.3 588.8V642.4M758.2 594.3V640.3M790.9 600V654.9M789.5 605.2V654.4M789.1 598.9V655.2M895.6 556.7V606M895.6 553.8V608.1M892.9 558V611.9M740.7 557.2V606.6M739.5 581.2V627.4M739.5 580.4V634.6M730.9 551.5V601.2M781.9 583.7V637.8M780.9 574.4V624M887.7 541.5V592.6M838.3 583.9V638.2M840.7 584.4V632.4M725.2 541V590.8M722.7 539.4V588.6M725.6 554V602.5M725.9 556.6V601.9M721 545V599.5M848.3 588.6V639.8M851.5 611V661.1M845.4 592.2V637.9M774.7 574.9V624.3M772.1 596.4V644.5M793.9 597.8V643.1M794.4 597.8V648.8M851.9 603.4V659.1M849.7 598.7V643.3M832.3 593.1V646.9M780.5 583.3V639.2M888.2 550.4V600.4M887.6 570.1V618.7M887.3 566.9V614.5M720.9 552.4V604M721 542V597.7M721.8 560.7V612.7M727 552.4V596.9M889.2 542.2V596.5M888 541.9V597.2M812.8 584V639.9M819.4 589.8V645.9M817.4 579.1V629.9M888.9 559.2V604.4M887.2 553.5V605.1M721.6 558.9V605.9M719.6 545.8V596.9M720.9 556.3V610.2M828.5 596.6V652.2M785.3 596.4V643.3M842.4 593.2V643.5M843.5 596.5V645.8M726.7 549.7V599.6M724 561.2V613.1M775 594.6V647.8M773.9 596.2V642.7M776.8 605.1V650.5M887.7 573.5V626.3M885 559.9V607.4M885.4 557.3V602.3M924.9 560.2V612.2M931.1 560.7V613.7M920.5 562.3V607.3M924.7 564.2V610.1M929.9 588.7V634.9M918.5 550.3V596.9M922.9 538.3V590.5M933.2 588V638.7M932 563.4V613.8M932.5 572.5V625.1M924.6 571.4V614.4M924.9 564.6V612.5M926.5 568.9V622M918.1 533.5V586M931.7 563.9V617.5M932.5 583.7V631.5" fill="none"/>
</g><g fill="#000">
<circle cx="811.6" cy="57" r="4.2"/>
<circle cx="886.5" cy="72.3" r="4.2"/>
<circle cx="854.5" cy="92" r="4.2"/>
<circle cx="805.2" cy="101.4" r="4.2"/>
<circle cx="739.7" cy="108.4" r="4.2"/>
<circle cx="786.4" cy="111.9" r="4.2"/>
<circle cx="882.1" cy="121.4" r="4.2"/>
<circle cx="895.1" cy="122.8" r="4.2"/>
<circle cx="744.1" cy="125.8" r="4.2"/>
<circle cx="758.2" cy="125.8" r="4.2"/>
<circle cx="790.2" cy="126.1" r="4.2"/>
<circle cx="818.1" cy="126.3" r="4.2"/>
<circle cx="908.3" cy="127.5" r="4.2"/>
<circle cx="822.8" cy="131.6" r="4.2"/>
<circle cx="856.9" cy="130.2" r="4.2"/>
<circle cx="879.2" cy="131.6" r="4.2"/>
<circle cx="873.6" cy="137.8" r="4.2"/>
<circle cx="883.9" cy="140.4" r="4.2"/>
<circle cx="865.4" cy="142.2" r="4.2"/>
<circle cx="876" cy="143.1" r="4.2"/>
<circle cx="880.1" cy="144.9" r="4.2"/>
<circle cx="735.2" cy="145.1" r="4.2"/>
<circle cx="747.9" cy="147.2" r="4.2"/>
<circle cx="812.5" cy="147.2" r="4.2"/>
<circle cx="852.2" cy="148.1" r="4.2"/>
<circle cx="829.6" cy="149" r="4.2"/>
<circle cx="837.2" cy="149" r="4.2"/>
<circle cx="715.9" cy="150.7" r="4.2"/>
<circle cx="771.7" cy="151.9" r="4.2"/>
<circle cx="899.5" cy="149.8" r="4.2"/>
<circle cx="833.7" cy="153.7" r="4.2"/>
<circle cx="905.4" cy="153.7" r="4.2"/>
<circle cx="722" cy="158.4" r="4.2"/>
<circle cx="782.3" cy="158.4" r="4.2"/>
<circle cx="793.1" cy="159" r="4.2"/>
<circle cx="875.4" cy="156.6" r="4.2"/>
<circle cx="885.4" cy="158.1" r="4.2"/>
<circle cx="903.6" cy="157.8" r="4.2"/>
<circle cx="838.1" cy="159.5" r="4.2"/>
<circle cx="858.9" cy="160.1" r="4.2"/>
<circle cx="751.7" cy="160.1" r="4.2"/>
<circle cx="916.8" cy="160.1" r="4.2"/>
<circle cx="935.6" cy="161.9" r="4.2"/>
<circle cx="801.4" cy="161.9" r="4.2"/>
<circle cx="754.9" cy="162.8" r="4.2"/>
<circle cx="730.8" cy="164.2" r="4.2"/>
<circle cx="713.8" cy="164.8" r="4.2"/>
<circle cx="841.9" cy="164.8" r="4.2"/>
<circle cx="863" cy="163.4" r="4.2"/>
<circle cx="871.3" cy="163.4" r="4.2"/>
<circle cx="790.5" cy="163.4" r="4.2"/>
<circle cx="887.4" cy="164.8" r="4.2"/>
<circle cx="891" cy="164.8" r="4.2"/>
<circle cx="912.4" cy="166.3" r="4.2"/>
<circle cx="918.3" cy="162.8" r="4.2"/>
<circle cx="796.4" cy="167.2" r="4.2"/>
<circle cx="833.1" cy="167.8" r="4.2"/>
<circle cx="827.2" cy="169.2" r="4.2"/>
<circle cx="767.6" cy="168.9" r="4.2"/>
<circle cx="752.3" cy="169.2" r="4.2"/>
<circle cx="758.8" cy="169.2" r="4.2"/>
<circle cx="711.5" cy="170.1" r="4.2"/>
<circle cx="780.5" cy="170.4" r="4.2"/>
<circle cx="789" cy="169.2" r="4.2"/>
<circle cx="866.6" cy="167.8" r="4.2"/>
<circle cx="902.1" cy="170.1" r="4.2"/>
<circle cx="921.2" cy="171.3" r="4.2"/>
<circle cx="928.6" cy="173.6" r="4.2"/>
<circle cx="868.3" cy="172.8" r="4.2"/>
<circle cx="820.7" cy="174.2" r="4.2"/>
<circle cx="724.1" cy="174.5" r="4.2"/>
<circle cx="733.2" cy="174.5" r="4.2"/>
<circle cx="749.4" cy="175.1" r="4.2"/>
<circle cx="784.6" cy="175.1" r="4.2"/>
<circle cx="791.9" cy="175.1" r="4.2"/>
<circle cx="805.8" cy="176.6" r="4.2"/>
<circle cx="873.6" cy="176" r="4.2"/>
<circle cx="886.8" cy="175.1" r="4.2"/>
<circle cx="894.8" cy="175.1" r="4.2"/>
<circle cx="906.5" cy="173.6" r="4.2"/>
<circle cx="910.9" cy="176" r="4.2"/>
<circle cx="869.8" cy="179.5" r="4.2"/>
<circle cx="745.5" cy="179.5" r="4.2"/>
<circle cx="787.5" cy="181.9" r="4.2"/>
<circle cx="796.4" cy="181.9" r="4.2"/>
<circle cx="899.8" cy="181" r="4.2"/>
<circle cx="909.5" cy="180.1" r="4.2"/>
<circle cx="737.9" cy="183.3" r="4.2"/>
<circle cx="918.9" cy="183.3" r="4.2"/>
<circle cx="933.6" cy="184.5" r="4.2"/>
<circle cx="741.4" cy="186.9" r="4.2"/>
<circle cx="748.8" cy="186.9" r="4.2"/>
<circle cx="755.2" cy="187.5" r="4.2"/>
<circle cx="720.3" cy="188" r="4.2"/>
<circle cx="910.1" cy="186.9" r="4.2"/>
<circle cx="922.7" cy="185.4" r="4.2"/>
<circle cx="866.9" cy="189.2" r="4.2"/>
<circle cx="872.2" cy="189.2" r="4.2"/>
<circle cx="744.9" cy="191.3" r="4.2"/>
<circle cx="758.2" cy="191.3" r="4.2"/>
<circle cx="779.3" cy="192.2" r="4.2"/>
<circle cx="746.4" cy="194.2" r="4.2"/>
<circle cx="761.1" cy="194.2" r="4.2"/>
<circle cx="914.8" cy="192.7" r="4.2"/>
<circle cx="923.6" cy="190.7" r="4.2"/>
<circle cx="933" cy="190.7" r="4.2"/>
<circle cx="750.8" cy="197.1" r="4.2"/>
<circle cx="763.2" cy="198.6" r="4.2"/>
<circle cx="769.9" cy="197.1" r="4.2"/>
<circle cx="803.1" cy="197.1" r="4.2"/>
<circle cx="931.5" cy="198.6" r="4.2"/>
<circle cx="869.8" cy="200.7" r="4.2"/>
<circle cx="882.7" cy="202.4" r="4.2"/>
<circle cx="916.2" cy="211.2" r="4.2"/>
<circle cx="756.4" cy="211.5" r="4.2"/>
<circle cx="764.6" cy="211.8" r="4.2"/>
<circle cx="741.4" cy="215.4" r="4.2"/>
<circle cx="765.5" cy="290.6" r="4.2"/>
<circle cx="784.1" cy="292.4" r="4.2"/>
<circle cx="717.8" cy="307.4" r="4.2"/>
<circle cx="849.7" cy="299" r="4.2"/>
<circle cx="877.9" cy="300.8" r="4.2"/>
<circle cx="744.5" cy="310.4" r="4.2"/>
<circle cx="785.3" cy="309.8" r="4.2"/>
<circle cx="809" cy="311" r="4.2"/>
<circle cx="920.5" cy="310.4" r="4.2"/>
<circle cx="924.4" cy="317.6" r="4.2"/>
<circle cx="936.4" cy="320" r="4.2"/>
<circle cx="749" cy="321.5" r="4.2"/>
<circle cx="858.4" cy="320.6" r="4.2"/>
<circle cx="874" cy="321.2" r="4.2"/>
<circle cx="910.6" cy="322.4" r="4.2"/>
<circle cx="826" cy="326.6" r="4.2"/>
<circle cx="893.5" cy="328.1" r="4.2"/>
<circle cx="744.5" cy="330.5" r="4.2"/>
<circle cx="768.8" cy="333.5" r="4.2"/>
<circle cx="778.7" cy="333.5" r="4.2"/>
<circle cx="803.6" cy="332" r="4.2"/>
<circle cx="807.5" cy="332" r="4.2"/>
<circle cx="817.1" cy="332" r="4.2"/>
<circle cx="819.5" cy="335" r="4.2"/>
<circle cx="844.9" cy="332" r="4.2"/>
<circle cx="926.8" cy="333.5" r="4.2"/>
<circle cx="774.8" cy="337.4" r="4.2"/>
<circle cx="815" cy="338" r="4.2"/>
<circle cx="796.4" cy="338.6" r="4.2"/>
<circle cx="728" cy="341.6" r="4.2"/>
<circle cx="827.8" cy="340.4" r="4.2"/>
<circle cx="900.4" cy="340.4" r="4.2"/>
<circle cx="933.4" cy="339.5" r="4.2"/>
<circle cx="853" cy="343.4" r="4.2"/>
<circle cx="872.8" cy="343.1" r="4.2"/>
<circle cx="797.9" cy="344" r="4.2"/>
<circle cx="768.8" cy="344" r="4.2"/>
<circle cx="838.9" cy="342.5" r="4.2"/>
<circle cx="766.1" cy="346.1" r="4.2"/>
<circle cx="752.9" cy="347" r="4.2"/>
<circle cx="780.8" cy="348.5" r="4.2"/>
<circle cx="818" cy="348.5" r="4.2"/>
<circle cx="895.9" cy="347" r="4.2"/>
<circle cx="919.9" cy="345.5" r="4.2"/>
<circle cx="934.3" cy="347" r="4.2"/>
<circle cx="740" cy="350.6" r="4.2"/>
<circle cx="788.6" cy="350.6" r="4.2"/>
<circle cx="783.8" cy="350.6" r="4.2"/>
<circle cx="834.4" cy="351.5" r="4.2"/>
<circle cx="841.9" cy="350.6" r="4.2"/>
<circle cx="889.9" cy="350" r="4.2"/>
<circle cx="914.5" cy="350.6" r="4.2"/>
<circle cx="714.8" cy="355.1" r="4.2"/>
<circle cx="728.9" cy="356" r="4.2"/>
<circle cx="768.8" cy="355.4" r="4.2"/>
<circle cx="809.9" cy="356.6" r="4.2"/>
<circle cx="818.3" cy="356.6" r="4.2"/>
<circle cx="837.4" cy="356.6" r="4.2"/>
<circle cx="844.9" cy="357.5" r="4.2"/>
<circle cx="892.3" cy="356.6" r="4.2"/>
<circle cx="904" cy="357.2" r="4.2"/>
<circle cx="734" cy="359" r="4.2"/>
<circle cx="740.6" cy="359" r="4.2"/>
<circle cx="752.9" cy="359.6" r="4.2"/>
<circle cx="880" cy="359.3" r="4.2"/>
<circle cx="796.1" cy="362" r="4.2"/>
<circle cx="719" cy="364.4" r="4.2"/>
<circle cx="760.1" cy="364.4" r="4.2"/>
<circle cx="731" cy="365.6" r="4.2"/>
<circle cx="840.4" cy="364.4" r="4.2"/>
<circle cx="846.4" cy="365" r="4.2"/>
<circle cx="895.9" cy="363.5" r="4.2"/>
<circle cx="901.3" cy="363.5" r="4.2"/>
<circle cx="928" cy="363.5" r="4.2"/>
<circle cx="936.4" cy="362.9" r="4.2"/>
<circle cx="727.1" cy="368.9" r="4.2"/>
<circle cx="752" cy="368" r="4.2"/>
<circle cx="831.4" cy="367.4" r="4.2"/>
<circle cx="910.3" cy="366.5" r="4.2"/>
<circle cx="915.4" cy="366.5" r="4.2"/>
<circle cx="931.9" cy="366.5" r="4.2"/>
<circle cx="716.9" cy="372.8" r="4.2"/>
<circle cx="748.4" cy="371" r="4.2"/>
<circle cx="856" cy="370.1" r="4.2"/>
<circle cx="868.9" cy="372.5" r="4.2"/>
<circle cx="876.1" cy="374.6" r="4.2"/>
<circle cx="891.4" cy="373.4" r="4.2"/>
<circle cx="885.4" cy="376" r="4.2"/>
<circle cx="811.1" cy="377.5" r="4.2"/>
<circle cx="732.8" cy="379" r="4.2"/>
<circle cx="741.5" cy="379" r="4.2"/>
<circle cx="919.3" cy="376.9" r="4.2"/>
<circle cx="751.4" cy="382.9" r="4.2"/>
<circle cx="793.4" cy="383.5" r="4.2"/>
<circle cx="821.9" cy="383.5" r="4.2"/>
<circle cx="917.8" cy="382.9" r="4.2"/>
<circle cx="718.4" cy="386.5" r="4.2"/>
<circle cx="727.1" cy="388.9" r="4.2"/>
<circle cx="734" cy="391" r="4.2"/>
<circle cx="757.1" cy="392.5" r="4.2"/>
<circle cx="869.5" cy="386.5" r="4.2"/>
<circle cx="880.6" cy="387.4" r="4.2"/>
<circle cx="889" cy="389.5" r="4.2"/>
<circle cx="867.7" cy="391.9" r="4.2"/>
<circle cx="931.3" cy="388.3" r="4.2"/>
<circle cx="799.1" cy="394" r="4.2"/>
<circle cx="925" cy="394" r="4.2"/>
<circle cx="933.4" cy="393.4" r="4.2"/>
<circle cx="819.5" cy="398.5" r="4.2"/>
<circle cx="863.8" cy="397.9" r="4.2"/>
<circle cx="889.9" cy="397.3" r="4.2"/>
<circle cx="725.9" cy="400.9" r="4.2"/>
<circle cx="725.6" cy="404.5" r="4.2"/>
<circle cx="759.8" cy="404.8" r="4.2"/>
<circle cx="915.4" cy="400.9" r="4.2"/>
<circle cx="911.8" cy="402.4" r="4.2"/>
<circle cx="930.4" cy="407.8" r="4.2"/>
<circle cx="909.7" cy="417.1" r="4.2"/>
<circle cx="902.5" cy="424.9" r="4.2"/>
<circle cx="927.4" cy="436.3" r="4.2"/>
<circle cx="860.8" cy="454.3" r="4.2"/>
<circle cx="838.3" cy="347" r="4.2"/>
<circle cx="842.5" cy="354.5" r="4.2"/>
<circle cx="835.9" cy="360.5" r="4.2"/>
<circle cx="844.3" cy="347" r="4.2"/>
<circle cx="839.5" cy="353" r="4.2"/>
<circle cx="730.4" cy="360.5" r="4.2"/>
<circle cx="735.5" cy="356.6" r="4.2"/>
<circle cx="892.9" cy="353" r="4.2"/>
<circle cx="816.5" cy="342.5" r="4.2"/>
<circle cx="876" cy="520.4" r="3.9"/>
<circle cx="756.2" cy="542.8" r="3.9"/>
<circle cx="789.9" cy="704.8" r="3.9"/>
<circle cx="801.3" cy="669.3" r="3.9"/>
<circle cx="804.3" cy="658.2" r="3.9"/>
<circle cx="822.1" cy="654.6" r="3.9"/>
<circle cx="828.8" cy="648.4" r="3.9"/>
<circle cx="741.5" cy="639.2" r="3.9"/>
<circle cx="740" cy="630.1" r="3.9"/>
<circle cx="714.9" cy="578.6" r="3.9"/>
<circle cx="760.5" cy="570.6" r="3.9"/>
<circle cx="899.3" cy="565.7" r="3.9"/>
<circle cx="906" cy="578" r="3.9"/>
<circle cx="907.8" cy="611.1" r="3.9"/>
<circle cx="916.1" cy="557.2" r="3.9"/>
<circle cx="919.2" cy="555" r="3.9"/>
<circle cx="929.3" cy="625.5" r="3.9"/>
<circle cx="933.3" cy="594.2" r="3.9"/>
<circle cx="934.8" cy="606.5" r="3.9"/>
<circle cx="839.5" cy="580.4" r="3.9"/>
<circle cx="854.6" cy="584.7" r="3.9"/>
<circle cx="868.9" cy="595.8" r="3.9"/>
<circle cx="893.4" cy="579.5" r="3.9"/>
<circle cx="881.8" cy="631.6" r="3.9"/>
<circle cx="888.5" cy="614.7" r="3.9"/>
<circle cx="874.2" cy="619.3" r="3.9"/>
<circle cx="849.6" cy="627.1" r="3.9"/>
<circle cx="852" cy="631.2" r="3.9"/>
<circle cx="792" cy="623.3" r="3.9"/>
<circle cx="796.7" cy="629.2" r="3.9"/>
<circle cx="794.9" cy="633" r="3.9"/>
<circle cx="772.6" cy="603.7" r="3.9"/>
<circle cx="770.7" cy="615.2" r="3.9"/>
<circle cx="770.6" cy="611.2" r="3.9"/>
<circle cx="795" cy="620.7" r="3.9"/>
<circle cx="813.3" cy="613" r="3.9"/>
<circle cx="757.7" cy="614.8" r="3.9"/>
<circle cx="757.2" cy="586.9" r="3.9"/>
<circle cx="757.3" cy="604.1" r="3.9"/>
<circle cx="794.4" cy="609.2" r="3.9"/>
<circle cx="877.4" cy="597.5" r="3.9"/>
<circle cx="877.4" cy="594.8" r="3.9"/>
<circle cx="851.1" cy="616.9" r="3.9"/>
<circle cx="724.6" cy="563.4" r="3.9"/>
<circle cx="773.5" cy="614.3" r="3.9"/>
<circle cx="816.4" cy="608.7" r="3.9"/>
<circle cx="816.9" cy="603.3" r="3.9"/>
<circle cx="817.9" cy="631.5" r="3.9"/>
<circle cx="760.1" cy="612.4" r="3.9"/>
<circle cx="767.5" cy="605.3" r="3.9"/>
<circle cx="769.9" cy="626.8" r="3.9"/>
<circle cx="767" cy="608.2" r="3.9"/>
<circle cx="757.1" cy="604" r="3.9"/>
<circle cx="804.7" cy="612.2" r="3.9"/>
<circle cx="801.8" cy="633.8" r="3.9"/>
<circle cx="804.5" cy="631.8" r="3.9"/>
<circle cx="886.2" cy="591.6" r="3.9"/>
<circle cx="861.9" cy="613.9" r="3.9"/>
<circle cx="857" cy="611.7" r="3.9"/>
<circle cx="787.8" cy="609.1" r="3.9"/>
<circle cx="797.2" cy="627.7" r="3.9"/>
<circle cx="788.8" cy="630" r="3.9"/>
<circle cx="742.2" cy="604.3" r="3.9"/>
<circle cx="742.5" cy="613.7" r="3.9"/>
<circle cx="750.2" cy="583.1" r="3.9"/>
<circle cx="724.3" cy="586.1" r="3.9"/>
<circle cx="722.7" cy="579" r="3.9"/>
<circle cx="717.9" cy="580.6" r="3.9"/>
<circle cx="797" cy="620.8" r="3.9"/>
<circle cx="883.3" cy="600.9" r="3.9"/>
<circle cx="878.1" cy="585.5" r="3.9"/>
<circle cx="879.7" cy="582.8" r="3.9"/>
<circle cx="882" cy="603" r="3.9"/>
<circle cx="758.4" cy="599.2" r="3.9"/>
<circle cx="847.6" cy="589.8" r="3.9"/>
<circle cx="835.1" cy="629.8" r="3.9"/>
<circle cx="832.5" cy="615.8" r="3.9"/>
<circle cx="832.6" cy="619.4" r="3.9"/>
<circle cx="802.4" cy="627.7" r="3.9"/>
<circle cx="796.3" cy="633.2" r="3.9"/>
<circle cx="797.2" cy="625.4" r="3.9"/>
<circle cx="880.1" cy="608.2" r="3.9"/>
<circle cx="878.5" cy="584" r="3.9"/>
<circle cx="759.3" cy="610.9" r="3.9"/>
<circle cx="718.3" cy="577.3" r="3.9"/>
<circle cx="725.7" cy="560.4" r="3.9"/>
<circle cx="723.1" cy="575" r="3.9"/>
<circle cx="848.4" cy="618.2" r="3.9"/>
<circle cx="847.7" cy="624.6" r="3.9"/>
<circle cx="845.6" cy="610.6" r="3.9"/>
<circle cx="814.2" cy="628" r="3.9"/>
<circle cx="810.3" cy="622.8" r="3.9"/>
<circle cx="806.6" cy="618.7" r="3.9"/>
<circle cx="801.4" cy="614.4" r="3.9"/>
<circle cx="754.1" cy="596.3" r="3.9"/>
<circle cx="752.3" cy="599.4" r="3.9"/>
<circle cx="805.9" cy="629" r="3.9"/>
<circle cx="807.3" cy="624.1" r="3.9"/>
<circle cx="767.5" cy="599.6" r="3.9"/>
<circle cx="764.3" cy="628.6" r="3.9"/>
<circle cx="771.7" cy="607.7" r="3.9"/>
<circle cx="750.3" cy="614.2" r="3.9"/>
<circle cx="895.6" cy="589.2" r="3.9"/>
<circle cx="890.9" cy="561.4" r="3.9"/>
<circle cx="800.9" cy="633.6" r="3.9"/>
<circle cx="802" cy="610" r="3.9"/>
<circle cx="779.5" cy="624.3" r="3.9"/>
<circle cx="773.6" cy="620.5" r="3.9"/>
<circle cx="777.5" cy="595.1" r="3.9"/>
<circle cx="767.6" cy="628.3" r="3.9"/>
<circle cx="769" cy="610.2" r="3.9"/>
<circle cx="868.1" cy="628.4" r="3.9"/>
<circle cx="762.5" cy="609" r="3.9"/>
<circle cx="766.6" cy="600.8" r="3.9"/>
<circle cx="764.7" cy="623.5" r="3.9"/>
<circle cx="781.8" cy="615.6" r="3.9"/>
<circle cx="782.9" cy="609.5" r="3.9"/>
<circle cx="781.4" cy="616.9" r="3.9"/>
<circle cx="879.3" cy="582" r="3.9"/>
<circle cx="744.7" cy="625.1" r="3.9"/>
<circle cx="735" cy="596" r="3.9"/>
<circle cx="780.7" cy="616.7" r="3.9"/>
<circle cx="776.4" cy="608.9" r="3.9"/>
<circle cx="776.3" cy="616.7" r="3.9"/>
<circle cx="822.5" cy="629" r="3.9"/>
<circle cx="858.4" cy="620.8" r="3.9"/>
<circle cx="816.2" cy="602.6" r="3.9"/>
<circle cx="813.9" cy="610.1" r="3.9"/>
<circle cx="770.3" cy="606" r="3.9"/>
<circle cx="770" cy="591.2" r="3.9"/>
<circle cx="715.7" cy="580.3" r="3.9"/>
<circle cx="760.9" cy="613" r="3.9"/>
<circle cx="758.8" cy="592.4" r="3.9"/>
<circle cx="713.4" cy="572.7" r="3.9"/>
<circle cx="715.9" cy="579.3" r="3.9"/>
<circle cx="713.7" cy="575" r="3.9"/>
<circle cx="893.7" cy="596.6" r="3.9"/>
<circle cx="771.6" cy="618.6" r="3.9"/>
<circle cx="774.3" cy="611.9" r="3.9"/>
<circle cx="769" cy="602.6" r="3.9"/>
<circle cx="717" cy="581.4" r="3.9"/>
<circle cx="764.2" cy="591.3" r="3.9"/>
<circle cx="765.5" cy="603.3" r="3.9"/>
<circle cx="836.1" cy="612.9" r="3.9"/>
<circle cx="835.2" cy="610.3" r="3.9"/>
<circle cx="784.3" cy="626.3" r="3.9"/>
<circle cx="780.8" cy="629.4" r="3.9"/>
<circle cx="851.3" cy="627.3" r="3.9"/>
<circle cx="736.1" cy="579.3" r="3.9"/>
<circle cx="732.8" cy="570.7" r="3.9"/>
<circle cx="883.1" cy="576.5" r="3.9"/>
<circle cx="878.8" cy="573.7" r="3.9"/>
<circle cx="883.2" cy="572.8" r="3.9"/>
<circle cx="800.2" cy="618.4" r="3.9"/>
<circle cx="767.7" cy="623.4" r="3.9"/>
<circle cx="735.2" cy="576.4" r="3.9"/>
<circle cx="767.7" cy="594.2" r="3.9"/>
<circle cx="767" cy="598" r="3.9"/>
<circle cx="791.2" cy="616.6" r="3.9"/>
<circle cx="758.5" cy="615.6" r="3.9"/>
<circle cx="811.9" cy="631.6" r="3.9"/>
<circle cx="808.5" cy="611.6" r="3.9"/>
<circle cx="772.7" cy="587.3" r="3.9"/>
<circle cx="845.5" cy="612" r="3.9"/>
<circle cx="848" cy="605.1" r="3.9"/>
<circle cx="847.7" cy="638.2" r="3.9"/>
<circle cx="796.6" cy="625.9" r="3.9"/>
<circle cx="798.3" cy="622.4" r="3.9"/>
<circle cx="798.7" cy="630.8" r="3.9"/>
<circle cx="780.9" cy="612.1" r="3.9"/>
<circle cx="780.1" cy="611.8" r="3.9"/>
<circle cx="731.4" cy="569" r="3.9"/>
<circle cx="758" cy="598" r="3.9"/>
<circle cx="759.4" cy="607.4" r="3.9"/>
<circle cx="760.5" cy="590.6" r="3.9"/>
<circle cx="825.7" cy="628.6" r="3.9"/>
<circle cx="772.3" cy="620.7" r="3.9"/>
<circle cx="779.6" cy="610" r="3.9"/>
<circle cx="763.7" cy="615.7" r="3.9"/>
<circle cx="758.3" cy="615.6" r="3.9"/>
<circle cx="758.2" cy="617.3" r="3.9"/>
<circle cx="790.9" cy="627.4" r="3.9"/>
<circle cx="789.5" cy="629.8" r="3.9"/>
<circle cx="789.1" cy="627.1" r="3.9"/>
<circle cx="895.6" cy="581.4" r="3.9"/>
<circle cx="895.6" cy="581" r="3.9"/>
<circle cx="892.9" cy="585" r="3.9"/>
<circle cx="740.7" cy="581.9" r="3.9"/>
<circle cx="739.5" cy="604.3" r="3.9"/>
<circle cx="739.5" cy="607.5" r="3.9"/>
<circle cx="730.9" cy="576.4" r="3.9"/>
<circle cx="781.9" cy="610.7" r="3.9"/>
<circle cx="780.9" cy="599.2" r="3.9"/>
<circle cx="887.7" cy="567.1" r="3.9"/>
<circle cx="838.3" cy="611.1" r="3.9"/>
<circle cx="840.7" cy="608.4" r="3.9"/>
<circle cx="725.2" cy="565.9" r="3.9"/>
<circle cx="722.7" cy="564" r="3.9"/>
<circle cx="725.6" cy="578.2" r="3.9"/>
<circle cx="725.9" cy="579.3" r="3.9"/>
<circle cx="721" cy="572.3" r="3.9"/>
<circle cx="848.3" cy="614.2" r="3.9"/>
<circle cx="851.5" cy="636" r="3.9"/>
<circle cx="845.4" cy="615.1" r="3.9"/>
<circle cx="774.7" cy="599.6" r="3.9"/>
<circle cx="772.1" cy="620.4" r="3.9"/>
<circle cx="793.9" cy="620.5" r="3.9"/>
<circle cx="794.4" cy="623.3" r="3.9"/>
<circle cx="851.9" cy="631.2" r="3.9"/>
<circle cx="849.7" cy="621" r="3.9"/>
<circle cx="832.3" cy="620" r="3.9"/>
<circle cx="780.5" cy="611.3" r="3.9"/>
<circle cx="888.2" cy="575.4" r="3.9"/>
<circle cx="887.6" cy="594.4" r="3.9"/>
<circle cx="887.3" cy="590.7" r="3.9"/>
<circle cx="720.9" cy="578.2" r="3.9"/>
<circle cx="721" cy="569.9" r="3.9"/>
<circle cx="721.8" cy="586.7" r="3.9"/>
<circle cx="727" cy="574.6" r="3.9"/>
<circle cx="889.2" cy="569.4" r="3.9"/>
<circle cx="888" cy="569.5" r="3.9"/>
<circle cx="812.8" cy="612" r="3.9"/>
<circle cx="819.4" cy="617.8" r="3.9"/>
<circle cx="817.4" cy="604.5" r="3.9"/>
<circle cx="888.9" cy="581.8" r="3.9"/>
<circle cx="887.2" cy="579.3" r="3.9"/>
<circle cx="721.6" cy="582.4" r="3.9"/>
<circle cx="719.6" cy="571.4" r="3.9"/>
<circle cx="720.9" cy="583.2" r="3.9"/>
<circle cx="828.5" cy="624.4" r="3.9"/>
<circle cx="785.3" cy="619.8" r="3.9"/>
<circle cx="842.4" cy="618.3" r="3.9"/>
<circle cx="843.5" cy="621.1" r="3.9"/>
<circle cx="726.7" cy="574.7" r="3.9"/>
<circle cx="724" cy="587.1" r="3.9"/>
<circle cx="775" cy="621.2" r="3.9"/>
<circle cx="773.9" cy="619.4" r="3.9"/>
<circle cx="776.8" cy="627.8" r="3.9"/>
<circle cx="887.7" cy="599.9" r="3.9"/>
<circle cx="885" cy="583.6" r="3.9"/>
<circle cx="885.4" cy="579.8" r="3.9"/>
<circle cx="924.9" cy="586.2" r="3.9"/>
<circle cx="931.1" cy="587.2" r="3.9"/>
<circle cx="920.5" cy="584.8" r="3.9"/>
<circle cx="924.7" cy="587.2" r="3.9"/>
<circle cx="929.9" cy="611.8" r="3.9"/>
<circle cx="918.5" cy="573.6" r="3.9"/>
<circle cx="922.9" cy="564.4" r="3.9"/>
<circle cx="933.2" cy="613.4" r="3.9"/>
<circle cx="932" cy="588.6" r="3.9"/>
<circle cx="932.5" cy="598.8" r="3.9"/>
<circle cx="924.6" cy="592.9" r="3.9"/>
<circle cx="924.9" cy="588.6" r="3.9"/>
<circle cx="926.5" cy="595.5" r="3.9"/>
<circle cx="918.1" cy="559.7" r="3.9"/>
<circle cx="931.7" cy="590.7" r="3.9"/>
<circle cx="932.5" cy="607.6" r="3.9"/>
</g>
<g>
<text x="73.2" y="201.1" font-size="32" text-anchor="end">5</text>
<text x="73.2" y="143.9" font-size="32" text-anchor="end">10</text>
<text x="73.2" y="86.7" font-size="32" text-anchor="end">15</text>
<text x="73.2" y="29.6" font-size="32" text-anchor="end">20</text>
<text x="73.2" y="434.4" font-size="32" text-anchor="end">5</text>
<text x="73.2" y="375.7" font-size="32" text-anchor="end">10</text>
<text x="73.2" y="317" font-size="32" text-anchor="end">15</text>
<text x="73.2" y="258.3" font-size="32" text-anchor="end">20</text>
<text x="73.2" y="672.3" font-size="32" text-anchor="end">5</text>
<text x="73.2" y="612.6" font-size="32" text-anchor="end">10</text>
<text x="73.2" y="552.8" font-size="32" text-anchor="end">15</text>
<text x="73.2" y="493.1" font-size="32" text-anchor="end">20</text>
<text x="73.2" y="732.1" font-size="32" text-anchor="end">0</text>
<text transform="translate(22.2 143.6) rotate(-90)" font-size="24.8" text-anchor="middle" font-weight="bold">Power</text>
<text transform="translate(22.2 374.4) rotate(-90)" font-size="24.8" text-anchor="middle" font-weight="bold">Power</text>
<text transform="translate(22.2 611.5) rotate(-90)" font-size="24.8" text-anchor="middle" font-weight="bold">Power</text>
<text x="253.4" y="757.8" font-size="30" text-anchor="middle">10</text>
<text x="426.3" y="757.8" font-size="30" text-anchor="middle">100</text>
<text x="599.2" y="757.8" font-size="30" text-anchor="middle">1000</text>
<text x="374.2" y="793.9" font-size="25.5" text-anchor="middle" font-weight="bold">Period [days]</text>
<text x="710.6" y="752" font-size="21.7" text-anchor="middle">0</text>
<text x="767.2" y="752" font-size="21.7" text-anchor="middle">0.25</text>
<text x="823.8" y="752" font-size="21.7" text-anchor="middle">0.5</text>
<text x="880.5" y="752" font-size="21.7" text-anchor="middle">0.75</text>
<text x="937.1" y="752" font-size="21.7" text-anchor="middle">1</text>
<text x="818.6" y="788.3" font-size="25.2" text-anchor="middle" font-weight="bold">Phase</text>
<text x="962.5" y="69.3" font-size="24">0.7</text>
<text x="962.5" y="116.7" font-size="24">0.6</text>
<text x="962.5" y="164.2" font-size="24">0.5</text>
<text x="962.5" y="211.7" font-size="24">0.4</text>
<text x="962.5" y="314.4" font-size="24">-5</text>
<text x="962.5" y="373.6" font-size="24">-10</text>
<text x="962.5" y="433.6" font-size="24">-15</text>
<text x="962.5" y="516.1" font-size="24">20</text>
<text x="962.5" y="563.6" font-size="24">10</text>
<text x="962.5" y="611.1" font-size="24">0</text>
<text x="962.5" y="658.8" font-size="24">-10</text>
<text x="962.5" y="706.4" font-size="24">-20</text>
<text transform="translate(1027.3 131.3) rotate(-90)" font-size="21" text-anchor="middle">S-index</text>
<text transform="translate(1028.3 362.8) rotate(-90)" font-size="21.5" text-anchor="middle">BIS [m/s]</text>
<text transform="translate(1028.3 602) rotate(-90)" font-size="21.5" text-anchor="middle">FWHM-3073 [m/s]</text>
<text x="116.5" y="75.8" font-size="28" font-style="italic">S-index</text>
<text x="121.4" y="307.8" font-size="28" font-style="italic">BIS</text>
<text x="121.3" y="547.4" font-size="28" font-style="italic">FWHM</text>
<text x="102.3" y="114.9" font-size="16.5" font-style="italic">1% FAP</text>
<text x="102.3" y="356.1" font-size="16.5" font-style="italic">1% FAP</text>
<text x="102.3" y="583.3" font-size="16.5" font-style="italic">1% FAP</text>
</g>
</svg></body></html>
